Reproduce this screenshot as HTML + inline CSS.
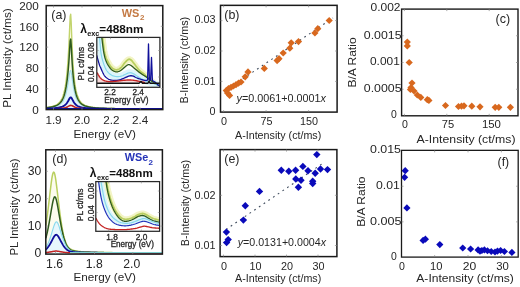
<!DOCTYPE html>
<html><head><meta charset="utf-8"><style>
html,body{margin:0;padding:0;background:#fff;}
svg{display:block;filter:blur(0.3px);}
text{font-family:"Liberation Sans", sans-serif;}
</style></head><body>
<svg xmlns="http://www.w3.org/2000/svg" width="520" height="287" viewBox="0 0 520 287">
<rect width="520" height="287" fill="#fff"/>
<polygon points="46.20,109.50 46.20,107.63 46.70,107.56 47.20,107.50 47.70,107.43 48.20,107.36 48.70,107.28 49.20,107.19 49.70,107.10 50.20,107.00 50.70,106.90 51.20,106.78 51.70,106.66 52.20,106.53 52.70,106.39 53.20,106.24 53.70,106.07 54.20,105.89 54.70,105.69 55.20,105.47 55.70,105.24 56.20,104.98 56.70,104.69 57.20,104.37 57.70,104.02 58.20,103.62 58.70,103.19 59.20,102.70 59.70,102.15 60.20,101.52 60.70,100.82 61.20,100.02 61.70,99.10 62.20,98.05 62.70,96.84 63.20,95.43 63.70,93.80 64.20,91.89 64.70,89.64 65.20,87.00 65.70,83.88 66.20,80.19 66.70,75.83 67.20,70.68 67.70,64.59 68.20,57.38 68.70,48.78 69.20,38.49 69.70,26.80 70.20,16.58 70.70,14.35 71.20,22.81 71.70,36.03 72.20,48.44 72.70,58.53 73.20,66.53 73.70,72.92 74.20,78.10 74.70,82.33 75.20,85.83 75.70,88.74 76.20,91.17 76.70,93.23 77.20,94.97 77.70,96.46 78.20,97.74 78.70,98.84 79.20,99.79 79.70,100.63 80.20,101.36 80.70,102.00 81.20,102.57 81.70,103.08 82.20,103.53 82.70,103.93 83.20,104.29 83.70,104.62 84.20,104.91 84.70,105.18 85.20,105.42 85.70,105.64 86.20,105.85 86.70,106.03 87.20,106.20 87.70,106.36 88.20,106.50 88.70,106.64 89.20,106.76 89.70,106.87 90.20,106.98 90.70,107.08 91.20,107.17 91.70,107.26 92.20,107.34 92.70,107.41 93.20,107.49 93.70,107.55 94.20,107.61 94.70,107.67 95.20,107.73 95.70,107.78 96.20,107.83 96.70,107.88 97.20,107.92 97.70,107.96 98.20,108.00 98.70,108.04 99.20,108.08 99.70,108.11 100.20,108.14 100.70,108.17 101.20,108.20 101.70,108.23 102.20,108.26 102.70,108.28 103.20,108.31 103.70,108.33 104.20,108.35 104.70,108.37 105.20,108.39 105.70,108.41 106.20,108.43 106.70,108.45 107.20,108.47 107.70,108.48 108.20,108.50 108.70,108.51 109.20,108.53 109.70,108.54 110.20,108.56 110.70,108.57 111.20,108.58 111.70,108.60 112.20,108.61 112.70,108.62 113.20,108.63 113.70,108.64 114.20,108.65 114.70,108.66 115.20,108.67 115.70,108.68 116.20,108.69 116.70,108.70 117.20,108.71 117.70,108.71 118.20,108.72 118.70,108.73 119.20,108.74 119.70,108.74 120.20,108.75 120.70,108.76 121.20,108.77 121.70,108.77 122.20,108.78 122.70,108.78 123.20,108.79 123.70,108.80 124.20,108.80 124.70,108.81 125.20,108.81 125.70,108.82 126.20,108.82 126.70,108.83 127.20,108.83 127.70,108.84 128.20,108.84 128.70,108.85 129.20,108.85 129.70,108.85 130.20,108.86 130.70,108.86 131.20,108.87 131.70,108.87 132.20,108.87 132.70,108.88 133.20,108.88 133.70,108.88 134.20,108.89 134.70,108.89 135.20,108.89 135.70,108.90 136.20,108.90 136.70,108.90 137.20,108.91 137.70,108.91 138.20,108.91 138.70,108.91 139.20,108.92 139.70,108.92 140.20,108.92 140.70,108.92 141.20,108.93 141.70,108.93 142.20,108.93 142.70,108.93 143.20,108.94 143.70,108.94 144.20,108.94 144.70,108.94 145.20,108.94 145.70,108.95 146.20,108.95 146.70,108.95 147.20,108.95 147.70,108.95 148.20,108.96 148.70,108.96 149.20,108.96 149.70,108.96 150.20,108.96 150.70,108.97 151.20,108.97 151.70,108.97 152.20,108.97 152.70,108.97 153.20,108.97 153.70,108.97 154.20,108.98 154.70,108.98 155.20,108.98 155.70,108.98 156.20,108.98 156.70,108.98 157.20,108.98 157.70,108.99 158.20,108.99 158.70,108.99 159.20,108.99 159.70,108.99 160.20,108.99 160.70,108.99 161.20,108.99 161.70,109.00 162.20,109.00 162.70,109.00 162.80,109.50" fill="#FBFBE3" stroke="none"/>
<polygon points="46.20,109.50 46.20,108.19 46.70,108.15 47.20,108.11 47.70,108.07 48.20,108.03 48.70,107.98 49.20,107.93 49.70,107.87 50.20,107.81 50.70,107.75 51.20,107.68 51.70,107.61 52.20,107.53 52.70,107.44 53.20,107.35 53.70,107.25 54.20,107.14 54.70,107.02 55.20,106.89 55.70,106.75 56.20,106.59 56.70,106.42 57.20,106.23 57.70,106.02 58.20,105.79 58.70,105.54 59.20,105.25 59.70,104.93 60.20,104.57 60.70,104.16 61.20,103.71 61.70,103.18 62.20,102.59 62.70,101.91 63.20,101.14 63.70,100.24 64.20,99.21 64.70,98.02 65.20,96.64 65.70,95.04 66.20,93.19 66.70,91.07 67.20,88.65 67.70,85.91 68.20,82.86 68.70,79.54 69.20,76.08 69.70,72.86 70.20,70.64 70.70,70.34 71.20,72.25 71.70,75.60 72.20,79.41 72.70,83.07 73.20,86.35 73.70,89.22 74.20,91.68 74.70,93.80 75.20,95.61 75.70,97.17 76.20,98.50 76.70,99.64 77.20,100.62 77.70,101.48 78.20,102.21 78.70,102.86 79.20,103.42 79.70,103.92 80.20,104.35 80.70,104.74 81.20,105.08 81.70,105.38 82.20,105.66 82.70,105.90 83.20,106.12 83.70,106.32 84.20,106.50 84.70,106.67 85.20,106.82 85.70,106.95 86.20,107.08 86.70,107.19 87.20,107.30 87.70,107.39 88.20,107.48 88.70,107.56 89.20,107.64 89.70,107.71 90.20,107.78 90.70,107.84 91.20,107.90 91.70,107.95 92.20,108.00 92.70,108.05 93.20,108.09 93.70,108.13 94.20,108.17 94.70,108.21 95.20,108.24 95.70,108.28 96.20,108.31 96.70,108.34 97.20,108.36 97.70,108.39 98.20,108.41 98.70,108.44 99.20,108.46 99.70,108.48 100.20,108.50 100.70,108.52 101.20,108.54 101.70,108.56 102.20,108.57 102.70,108.59 103.20,108.60 103.70,108.62 104.20,108.63 104.70,108.65 105.20,108.66 105.70,108.67 106.20,108.68 106.70,108.69 107.20,108.70 107.70,108.71 108.20,108.72 108.70,108.73 109.20,108.74 109.70,108.75 110.20,108.76 110.70,108.77 111.20,108.78 111.70,108.78 112.20,108.79 112.70,108.80 113.20,108.81 113.70,108.81 114.20,108.82 114.70,108.83 115.20,108.83 115.70,108.84 116.20,108.84 116.70,108.85 117.20,108.85 117.70,108.86 118.20,108.86 118.70,108.87 119.20,108.87 119.70,108.88 120.20,108.88 120.70,108.89 121.20,108.89 121.70,108.89 122.20,108.90 122.70,108.90 123.20,108.91 123.70,108.91 124.20,108.91 124.70,108.92 125.20,108.92 125.70,108.92 126.20,108.93 126.70,108.93 127.20,108.93 127.70,108.94 128.20,108.94 128.70,108.94 129.20,108.94 129.70,108.95 130.20,108.95 130.70,108.95 131.20,108.95 131.70,108.96 132.20,108.96 132.70,108.96 133.20,108.96 133.70,108.96 134.20,108.97 134.70,108.97 135.20,108.97 135.70,108.97 136.20,108.97 136.70,108.98 137.20,108.98 137.70,108.98 138.20,108.98 138.70,108.98 139.20,108.99 139.70,108.99 140.20,108.99 140.70,108.99 141.20,108.99 141.70,108.99 142.20,108.99 142.70,109.00 143.20,109.00 143.70,109.00 144.20,109.00 144.70,109.00 145.20,109.00 145.70,109.00 146.20,109.01 146.70,109.01 147.20,109.01 147.70,109.01 148.20,109.01 148.70,109.01 149.20,109.01 149.70,109.01 150.20,109.01 150.70,109.02 151.20,109.02 151.70,109.02 152.20,109.02 152.70,109.02 153.20,109.02 153.70,109.02 154.20,109.02 154.70,109.02 155.20,109.02 155.70,109.03 156.20,109.03 156.70,109.03 157.20,109.03 157.70,109.03 158.20,109.03 158.70,109.03 159.20,109.03 159.70,109.03 160.20,109.03 160.70,109.03 161.20,109.03 161.70,109.03 162.20,109.04 162.70,109.04 162.80,109.50" fill="#E4F7FB" stroke="none"/>
<polyline points="46.20,107.53 46.70,107.46 47.20,107.40 47.70,107.33 48.20,107.26 48.70,107.18 49.20,107.09 49.70,107.00 50.20,106.90 50.70,106.80 51.20,106.68 51.70,106.56 52.20,106.43 52.70,106.29 53.20,106.14 53.70,105.97 54.20,105.79 54.70,105.59 55.20,105.37 55.70,105.14 56.20,104.88 56.70,104.59 57.20,104.27 57.70,103.92 58.20,103.52 58.70,103.09 59.20,102.60 59.70,102.05 60.20,101.42 60.70,100.72 61.20,99.92 61.70,99.00 62.20,97.95 62.70,96.74 63.20,95.33 63.70,93.70 64.20,91.79 64.70,89.54 65.20,86.90 65.70,83.78 66.20,80.09 66.70,75.73 67.20,70.58 67.70,64.49 68.20,57.28 68.70,48.68 69.20,38.39 69.70,26.70 70.20,16.48 70.70,14.25 71.20,22.71 71.70,35.93 72.20,48.34 72.70,58.43 73.20,66.43 73.70,72.82 74.20,78.00 74.70,82.23 75.20,85.73 75.70,88.64 76.20,91.07 76.70,93.13 77.20,94.87 77.70,96.36 78.20,97.64 78.70,98.74 79.20,99.69 79.70,100.53 80.20,101.26 80.70,101.90 81.20,102.47 81.70,102.98 82.20,103.43 82.70,103.83 83.20,104.19 83.70,104.52 84.20,104.81 84.70,105.08 85.20,105.32 85.70,105.54 86.20,105.75 86.70,105.93 87.20,106.10 87.70,106.26 88.20,106.40 88.70,106.54 89.20,106.66 89.70,106.77 90.20,106.88 90.70,106.98 91.20,107.07 91.70,107.16 92.20,107.24 92.70,107.31 93.20,107.39 93.70,107.45 94.20,107.51 94.70,107.57 95.20,107.63 95.70,107.68 96.20,107.73 96.70,107.78 97.20,107.82 97.70,107.86 98.20,107.90 98.70,107.94 99.20,107.98 99.70,108.01 100.20,108.04 100.70,108.07 101.20,108.10 101.70,108.13 102.20,108.16 102.70,108.18 103.20,108.21 103.70,108.23 104.20,108.25 104.70,108.27 105.20,108.29 105.70,108.31 106.20,108.33 106.70,108.35 107.20,108.37 107.70,108.38 108.20,108.40 108.70,108.41 109.20,108.43 109.70,108.44 110.20,108.46 110.70,108.47 111.20,108.48 111.70,108.50 112.20,108.51 112.70,108.52 113.20,108.53 113.70,108.54 114.20,108.55 114.70,108.56 115.20,108.57 115.70,108.58 116.20,108.59 116.70,108.60 117.20,108.61 117.70,108.61 118.20,108.62 118.70,108.63 119.20,108.64 119.70,108.64 120.20,108.65 120.70,108.66 121.20,108.67 121.70,108.67 122.20,108.68 122.70,108.68 123.20,108.69 123.70,108.70 124.20,108.70 124.70,108.71 125.20,108.71 125.70,108.72 126.20,108.72 126.70,108.73 127.20,108.73 127.70,108.74 128.20,108.74 128.70,108.75 129.20,108.75 129.70,108.75 130.20,108.76 130.70,108.76 131.20,108.77 131.70,108.77 132.20,108.77 132.70,108.78 133.20,108.78 133.70,108.78 134.20,108.79 134.70,108.79 135.20,108.79 135.70,108.80 136.20,108.80 136.70,108.80 137.20,108.81 137.70,108.81 138.20,108.81 138.70,108.81 139.20,108.82 139.70,108.82 140.20,108.82 140.70,108.82 141.20,108.83 141.70,108.83 142.20,108.83 142.70,108.83 143.20,108.84 143.70,108.84 144.20,108.84 144.70,108.84 145.20,108.84 145.70,108.85 146.20,108.85 146.70,108.85 147.20,108.85 147.70,108.85 148.20,108.86 148.70,108.86 149.20,108.86 149.70,108.86 150.20,108.86 150.70,108.87 151.20,108.87 151.70,108.87 152.20,108.87 152.70,108.87 153.20,108.87 153.70,108.87 154.20,108.88 154.70,108.88 155.20,108.88 155.70,108.88 156.20,108.88 156.70,108.88 157.20,108.88 157.70,108.89 158.20,108.89 158.70,108.89 159.20,108.89 159.70,108.89 160.20,108.89 160.70,108.89 161.20,108.89 161.70,108.90 162.20,108.90 162.70,108.90" fill="none" stroke="#C2D46C" stroke-width="1.4" stroke-linejoin="round"/>
<polyline points="46.20,108.09 46.70,108.05 47.20,108.01 47.70,107.97 48.20,107.93 48.70,107.88 49.20,107.83 49.70,107.77 50.20,107.71 50.70,107.65 51.20,107.58 51.70,107.51 52.20,107.43 52.70,107.34 53.20,107.25 53.70,107.15 54.20,107.04 54.70,106.92 55.20,106.79 55.70,106.65 56.20,106.49 56.70,106.32 57.20,106.13 57.70,105.92 58.20,105.69 58.70,105.44 59.20,105.15 59.70,104.83 60.20,104.47 60.70,104.06 61.20,103.61 61.70,103.08 62.20,102.49 62.70,101.81 63.20,101.04 63.70,100.14 64.20,99.11 64.70,97.92 65.20,96.54 65.70,94.94 66.20,93.09 66.70,90.97 67.20,88.55 67.70,85.81 68.20,82.76 68.70,79.44 69.20,75.98 69.70,72.76 70.20,70.54 70.70,70.24 71.20,72.15 71.70,75.50 72.20,79.31 72.70,82.97 73.20,86.25 73.70,89.12 74.20,91.58 74.70,93.70 75.20,95.51 75.70,97.07 76.20,98.40 76.70,99.54 77.20,100.52 77.70,101.38 78.20,102.11 78.70,102.76 79.20,103.32 79.70,103.82 80.20,104.25 80.70,104.64 81.20,104.98 81.70,105.28 82.20,105.56 82.70,105.80 83.20,106.02 83.70,106.22 84.20,106.40 84.70,106.57 85.20,106.72 85.70,106.85 86.20,106.98 86.70,107.09 87.20,107.20 87.70,107.29 88.20,107.38 88.70,107.46 89.20,107.54 89.70,107.61 90.20,107.68 90.70,107.74 91.20,107.80 91.70,107.85 92.20,107.90 92.70,107.95 93.20,107.99 93.70,108.03 94.20,108.07 94.70,108.11 95.20,108.14 95.70,108.18 96.20,108.21 96.70,108.24 97.20,108.26 97.70,108.29 98.20,108.31 98.70,108.34 99.20,108.36 99.70,108.38 100.20,108.40 100.70,108.42 101.20,108.44 101.70,108.46 102.20,108.47 102.70,108.49 103.20,108.50 103.70,108.52 104.20,108.53 104.70,108.55 105.20,108.56 105.70,108.57 106.20,108.58 106.70,108.59 107.20,108.60 107.70,108.61 108.20,108.62 108.70,108.63 109.20,108.64 109.70,108.65 110.20,108.66 110.70,108.67 111.20,108.68 111.70,108.68 112.20,108.69 112.70,108.70 113.20,108.71 113.70,108.71 114.20,108.72 114.70,108.73 115.20,108.73 115.70,108.74 116.20,108.74 116.70,108.75 117.20,108.75 117.70,108.76 118.20,108.76 118.70,108.77 119.20,108.77 119.70,108.78 120.20,108.78 120.70,108.79 121.20,108.79 121.70,108.79 122.20,108.80 122.70,108.80 123.20,108.81 123.70,108.81 124.20,108.81 124.70,108.82 125.20,108.82 125.70,108.82 126.20,108.83 126.70,108.83 127.20,108.83 127.70,108.84 128.20,108.84 128.70,108.84 129.20,108.84 129.70,108.85 130.20,108.85 130.70,108.85 131.20,108.85 131.70,108.86 132.20,108.86 132.70,108.86 133.20,108.86 133.70,108.86 134.20,108.87 134.70,108.87 135.20,108.87 135.70,108.87 136.20,108.87 136.70,108.88 137.20,108.88 137.70,108.88 138.20,108.88 138.70,108.88 139.20,108.89 139.70,108.89 140.20,108.89 140.70,108.89 141.20,108.89 141.70,108.89 142.20,108.89 142.70,108.90 143.20,108.90 143.70,108.90 144.20,108.90 144.70,108.90 145.20,108.90 145.70,108.90 146.20,108.91 146.70,108.91 147.20,108.91 147.70,108.91 148.20,108.91 148.70,108.91 149.20,108.91 149.70,108.91 150.20,108.91 150.70,108.92 151.20,108.92 151.70,108.92 152.20,108.92 152.70,108.92 153.20,108.92 153.70,108.92 154.20,108.92 154.70,108.92 155.20,108.92 155.70,108.93 156.20,108.93 156.70,108.93 157.20,108.93 157.70,108.93 158.20,108.93 158.70,108.93 159.20,108.93 159.70,108.93 160.20,108.93 160.70,108.93 161.20,108.93 161.70,108.93 162.20,108.94 162.70,108.94" fill="none" stroke="#9ADBEA" stroke-width="1.0" stroke-linejoin="round"/>
<polyline points="46.20,107.77 46.70,107.72 47.20,107.67 47.70,107.61 48.20,107.55 48.70,107.48 49.20,107.41 49.70,107.33 50.20,107.25 50.70,107.17 51.20,107.07 51.70,106.97 52.20,106.86 52.70,106.75 53.20,106.62 53.70,106.48 54.20,106.33 54.70,106.17 55.20,105.99 55.70,105.80 56.20,105.58 56.70,105.35 57.20,105.09 57.70,104.80 58.20,104.48 58.70,104.12 59.20,103.73 59.70,103.28 60.20,102.78 60.70,102.22 61.20,101.57 61.70,100.84 62.20,100.01 62.70,99.05 63.20,97.95 63.70,96.68 64.20,95.20 64.70,93.49 65.20,91.49 65.70,89.16 66.20,86.43 66.70,83.25 67.20,79.55 67.70,75.21 68.20,70.12 68.70,64.04 69.20,56.72 69.70,48.30 70.20,40.84 70.70,39.13 71.20,45.17 71.70,54.65 72.20,63.53 72.70,70.75 73.20,76.49 73.70,81.11 74.20,84.89 74.70,88.01 75.20,90.63 75.70,92.82 76.20,94.68 76.70,96.26 77.20,97.61 77.70,98.77 78.20,99.78 78.70,100.65 79.20,101.41 79.70,102.07 80.20,102.66 80.70,103.18 81.20,103.64 81.70,104.04 82.20,104.41 82.70,104.74 83.20,105.03 83.70,105.30 84.20,105.54 84.70,105.76 85.20,105.96 85.70,106.14 86.20,106.30 86.70,106.45 87.20,106.59 87.70,106.72 88.20,106.84 88.70,106.95 89.20,107.05 89.70,107.15 90.20,107.24 90.70,107.32 91.20,107.40 91.70,107.47 92.20,107.53 92.70,107.60 93.20,107.65 93.70,107.71 94.20,107.76 94.70,107.81 95.20,107.86 95.70,107.90 96.20,107.94 96.70,107.98 97.20,108.02 97.70,108.05 98.20,108.08 98.70,108.12 99.20,108.14 99.70,108.17 100.20,108.20 100.70,108.23 101.20,108.25 101.70,108.27 102.20,108.30 102.70,108.32 103.20,108.34 103.70,108.36 104.20,108.37 104.70,108.39 105.20,108.41 105.70,108.43 106.20,108.44 106.70,108.46 107.20,108.47 107.70,108.49 108.20,108.50 108.70,108.51 109.20,108.52 109.70,108.54 110.20,108.55 110.70,108.56 111.20,108.57 111.70,108.58 112.20,108.59 112.70,108.60 113.20,108.61 113.70,108.62 114.20,108.62 114.70,108.63 115.20,108.64 115.70,108.65 116.20,108.66 116.70,108.66 117.20,108.67 117.70,108.68 118.20,108.68 118.70,108.69 119.20,108.70 119.70,108.70 120.20,108.71 120.70,108.71 121.20,108.72 121.70,108.73 122.20,108.73 122.70,108.74 123.20,108.74 123.70,108.75 124.20,108.75 124.70,108.75 125.20,108.76 125.70,108.76 126.20,108.77 126.70,108.77 127.20,108.78 127.70,108.78 128.20,108.78 128.70,108.79 129.20,108.79 129.70,108.79 130.20,108.80 130.70,108.80 131.20,108.80 131.70,108.81 132.20,108.81 132.70,108.81 133.20,108.82 133.70,108.82 134.20,108.82 134.70,108.82 135.20,108.83 135.70,108.83 136.20,108.83 136.70,108.84 137.20,108.84 137.70,108.84 138.20,108.84 138.70,108.84 139.20,108.85 139.70,108.85 140.20,108.85 140.70,108.85 141.20,108.86 141.70,108.86 142.20,108.86 142.70,108.86 143.20,108.86 143.70,108.86 144.20,108.87 144.70,108.87 145.20,108.87 145.70,108.87 146.20,108.87 146.70,108.88 147.20,108.88 147.70,108.88 148.20,108.88 148.70,108.88 149.20,108.88 149.70,108.88 150.20,108.89 150.70,108.89 151.20,108.89 151.70,108.89 152.20,108.89 152.70,108.89 153.20,108.89 153.70,108.90 154.20,108.90 154.70,108.90 155.20,108.90 155.70,108.90 156.20,108.90 156.70,108.90 157.20,108.90 157.70,108.90 158.20,108.91 158.70,108.91 159.20,108.91 159.70,108.91 160.20,108.91 160.70,108.91 161.20,108.91 161.70,108.91 162.20,108.91 162.70,108.91" fill="none" stroke="#2F5B1E" stroke-width="1.5" stroke-linejoin="round"/>
<polyline points="46.20,108.62 46.70,108.60 47.20,108.59 47.70,108.57 48.20,108.55 48.70,108.53 49.20,108.51 49.70,108.49 50.20,108.46 50.70,108.44 51.20,108.41 51.70,108.38 52.20,108.35 52.70,108.32 53.20,108.28 53.70,108.24 54.20,108.20 54.70,108.16 55.20,108.11 55.70,108.05 56.20,108.00 56.70,107.93 57.20,107.86 57.70,107.79 58.20,107.70 58.70,107.61 59.20,107.51 59.70,107.40 60.20,107.27 60.70,107.14 61.20,106.98 61.70,106.81 62.20,106.62 62.70,106.41 63.20,106.16 63.70,105.89 64.20,105.58 64.70,105.23 65.20,104.83 65.70,104.38 66.20,103.86 66.70,103.26 67.20,102.58 67.70,101.81 68.20,100.94 68.70,100.01 69.20,99.06 69.70,98.21 70.20,97.61 70.70,97.40 71.20,97.65 71.70,98.29 72.20,99.17 72.70,100.14 73.20,101.09 73.70,101.96 74.20,102.74 74.70,103.42 75.20,104.01 75.70,104.53 76.20,104.98 76.70,105.37 77.20,105.71 77.70,106.01 78.20,106.27 78.70,106.50 79.20,106.71 79.70,106.89 80.20,107.06 80.70,107.20 81.20,107.34 81.70,107.46 82.20,107.56 82.70,107.66 83.20,107.75 83.70,107.83 84.20,107.90 84.70,107.97 85.20,108.03 85.70,108.08 86.20,108.13 86.70,108.18 87.20,108.22 87.70,108.26 88.20,108.30 88.70,108.34 89.20,108.37 89.70,108.40 90.20,108.43 90.70,108.45 91.20,108.48 91.70,108.50 92.20,108.52 92.70,108.54 93.20,108.56 93.70,108.58 94.20,108.60 94.70,108.61 95.20,108.63 95.70,108.64 96.20,108.65 96.70,108.67 97.20,108.68 97.70,108.69 98.20,108.70 98.70,108.71 99.20,108.72 99.70,108.73 100.20,108.74 100.70,108.75 101.20,108.75 101.70,108.76 102.20,108.77 102.70,108.78 103.20,108.78 103.70,108.79 104.20,108.79 104.70,108.80 105.20,108.81 105.70,108.81 106.20,108.82 106.70,108.82 107.20,108.83 107.70,108.83 108.20,108.83 108.70,108.84 109.20,108.84 109.70,108.85 110.20,108.85 110.70,108.85 111.20,108.86 111.70,108.86 112.20,108.86 112.70,108.87 113.20,108.87 113.70,108.87 114.20,108.88 114.70,108.88 115.20,108.88 115.70,108.88 116.20,108.89 116.70,108.89 117.20,108.89 117.70,108.89 118.20,108.90 118.70,108.90 119.20,108.90 119.70,108.90 120.20,108.90 120.70,108.91 121.20,108.91 121.70,108.91 122.20,108.91 122.70,108.91 123.20,108.91 123.70,108.92 124.20,108.92 124.70,108.92 125.20,108.92 125.70,108.92 126.20,108.92 126.70,108.92 127.20,108.93 127.70,108.93 128.20,108.93 128.70,108.93 129.20,108.93 129.70,108.93 130.20,108.93 130.70,108.93 131.20,108.94 131.70,108.94 132.20,108.94 132.70,108.94 133.20,108.94 133.70,108.94 134.20,108.94 134.70,108.94 135.20,108.94 135.70,108.94 136.20,108.94 136.70,108.95 137.20,108.95 137.70,108.95 138.20,108.95 138.70,108.95 139.20,108.95 139.70,108.95 140.20,108.95 140.70,108.95 141.20,108.95 141.70,108.95 142.20,108.95 142.70,108.95 143.20,108.95 143.70,108.96 144.20,108.96 144.70,108.96 145.20,108.96 145.70,108.96 146.20,108.96 146.70,108.96 147.20,108.96 147.70,108.96 148.20,108.96 148.70,108.96 149.20,108.96 149.70,108.96 150.20,108.96 150.70,108.96 151.20,108.96 151.70,108.96 152.20,108.96 152.70,108.96 153.20,108.97 153.70,108.97 154.20,108.97 154.70,108.97 155.20,108.97 155.70,108.97 156.20,108.97 156.70,108.97 157.20,108.97 157.70,108.97 158.20,108.97 158.70,108.97 159.20,108.97 159.70,108.97 160.20,108.97 160.70,108.97 161.20,108.97 161.70,108.97 162.20,108.97 162.70,108.97" fill="none" stroke="#10109A" stroke-width="1.9" stroke-linejoin="round"/>
<polyline points="46.20,108.90 46.70,108.89 47.20,108.89 47.70,108.88 48.20,108.88 48.70,108.87 49.20,108.87 49.70,108.86 50.20,108.86 50.70,108.85 51.20,108.84 51.70,108.83 52.20,108.83 52.70,108.82 53.20,108.81 53.70,108.80 54.20,108.78 54.70,108.77 55.20,108.76 55.70,108.74 56.20,108.72 56.70,108.71 57.20,108.69 57.70,108.66 58.20,108.64 58.70,108.61 59.20,108.58 59.70,108.55 60.20,108.51 60.70,108.47 61.20,108.42 61.70,108.37 62.20,108.31 62.70,108.24 63.20,108.16 63.70,108.07 64.20,107.96 64.70,107.84 65.20,107.70 65.70,107.55 66.20,107.36 66.70,107.16 67.20,106.92 67.70,106.67 68.20,106.40 68.70,106.12 69.20,105.86 69.70,105.63 70.20,105.47 70.70,105.40 71.20,105.43 71.70,105.56 72.20,105.76 72.70,106.01 73.20,106.29 73.70,106.56 74.20,106.83 74.70,107.07 75.20,107.28 75.70,107.48 76.20,107.64 76.70,107.79 77.20,107.92 77.70,108.03 78.20,108.12 78.70,108.21 79.20,108.28 79.70,108.34 80.20,108.40 80.70,108.45 81.20,108.50 81.70,108.53 82.20,108.57 82.70,108.60 83.20,108.63 83.70,108.65 84.20,108.68 84.70,108.70 85.20,108.72 85.70,108.74 86.20,108.75 86.70,108.77 87.20,108.78 87.70,108.79 88.20,108.80 88.70,108.81 89.20,108.82 89.70,108.83 90.20,108.84 90.70,108.85 91.20,108.85 91.70,108.86 92.20,108.87 92.70,108.87 93.20,108.88 93.70,108.88 94.20,108.89 94.70,108.89 95.20,108.90 95.70,108.90 96.20,108.90 96.70,108.91 97.20,108.91 97.70,108.91 98.20,108.92 98.70,108.92 99.20,108.92 99.70,108.93 100.20,108.93 100.70,108.93 101.20,108.93 101.70,108.93 102.20,108.94 102.70,108.94 103.20,108.94 103.70,108.94 104.20,108.94 104.70,108.95 105.20,108.95 105.70,108.95 106.20,108.95 106.70,108.95 107.20,108.95 107.70,108.95 108.20,108.96 108.70,108.96 109.20,108.96 109.70,108.96 110.20,108.96 110.70,108.96 111.20,108.96 111.70,108.96 112.20,108.96 112.70,108.96 113.20,108.97 113.70,108.97 114.20,108.97 114.70,108.97 115.20,108.97 115.70,108.97 116.20,108.97 116.70,108.97 117.20,108.97 117.70,108.97 118.20,108.97 118.70,108.97 119.20,108.97 119.70,108.97 120.20,108.97 120.70,108.97 121.20,108.98 121.70,108.98 122.20,108.98 122.70,108.98 123.20,108.98 123.70,108.98 124.20,108.98 124.70,108.98 125.20,108.98 125.70,108.98 126.20,108.98 126.70,108.98 127.20,108.98 127.70,108.98 128.20,108.98 128.70,108.98 129.20,108.98 129.70,108.98 130.20,108.98 130.70,108.98 131.20,108.98 131.70,108.98 132.20,108.98 132.70,108.98 133.20,108.98 133.70,108.98 134.20,108.98 134.70,108.98 135.20,108.98 135.70,108.98 136.20,108.99 136.70,108.99 137.20,108.99 137.70,108.99 138.20,108.99 138.70,108.99 139.20,108.99 139.70,108.99 140.20,108.99 140.70,108.99 141.20,108.99 141.70,108.99 142.20,108.99 142.70,108.99 143.20,108.99 143.70,108.99 144.20,108.99 144.70,108.99 145.20,108.99 145.70,108.99 146.20,108.99 146.70,108.99 147.20,108.99 147.70,108.99 148.20,108.99 148.70,108.99 149.20,108.99 149.70,108.99 150.20,108.99 150.70,108.99 151.20,108.99 151.70,108.99 152.20,108.99 152.70,108.99 153.20,108.99 153.70,108.99 154.20,108.99 154.70,108.99 155.20,108.99 155.70,108.99 156.20,108.99 156.70,108.99 157.20,108.99 157.70,108.99 158.20,108.99 158.70,108.99 159.20,108.99 159.70,108.99 160.20,108.99 160.70,108.99 161.20,108.99 161.70,108.99 162.20,108.99 162.70,108.99" fill="none" stroke="#C42222" stroke-width="1.6" stroke-linejoin="round"/>
<line x1="46.20" y1="108.70" x2="162.80" y2="108.70" stroke="#10109A" stroke-width="1.4"/>
<rect x="96.8" y="37.4" width="63.10000000000001" height="49.9" fill="#fff"/>
<clipPath id="cia"><rect x="96.8" y="37.4" width="63.10000000000001" height="49.9"/></clipPath>
<g clip-path="url(#cia)">
<polyline points="102.50,37.40 102.61,38.23 102.76,39.39 102.94,40.76 103.13,42.23 103.32,43.68 103.50,45.00 103.66,46.22 103.81,47.43 103.97,48.63 104.13,49.80 104.30,50.93 104.50,52.00 104.72,53.02 104.94,53.98 105.19,54.91 105.44,55.80 105.72,56.66 106.00,57.50 106.30,58.31 106.61,59.09 106.94,59.84 107.28,60.57 107.63,61.29 108.00,62.00 108.39,62.71 108.80,63.43 109.22,64.12 109.65,64.80 110.08,65.43 110.50,66.00 110.91,66.52 111.31,66.99 111.72,67.42 112.13,67.81 112.55,68.17 113.00,68.50 113.47,68.81 113.96,69.10 114.47,69.36 114.98,69.57 115.49,69.72 116.00,69.80 116.50,69.81 117.00,69.75 117.50,69.64 118.00,69.47 118.50,69.26 119.00,69.00 119.50,68.70 120.00,68.35 120.50,67.95 121.00,67.51 121.50,67.02 122.00,66.50 122.49,65.91 122.98,65.24 123.47,64.54 123.96,63.82 124.47,63.13 125.00,62.50 125.57,61.89 126.17,61.26 126.78,60.66 127.39,60.13 127.97,59.69 128.50,59.40 128.97,59.25 129.39,59.22 129.78,59.29 130.17,59.45 130.57,59.69 131.00,60.00 131.47,60.41 131.96,60.93 132.47,61.54 132.98,62.19 133.49,62.85 134.00,63.50 134.50,64.14 135.00,64.81 135.50,65.50 136.00,66.19 136.50,66.86 137.00,67.50 137.49,68.12 137.96,68.72 138.44,69.31 138.93,69.89 139.44,70.45 140.00,71.00 140.62,71.53 141.30,72.04 142.00,72.53 142.70,73.02 143.38,73.51 144.00,74.00 144.56,74.51 145.07,75.02 145.56,75.53 146.04,76.04 146.51,76.53 147.00,77.00 147.50,77.45 148.00,77.87 148.50,78.28 149.00,78.69 149.50,79.09 150.00,79.50 150.50,79.92 151.00,80.35 151.50,80.78 152.00,81.20 152.50,81.61 153.00,82.00 153.49,82.37 153.96,82.72 154.44,83.06 154.93,83.39 155.44,83.70 156.00,84.00 156.66,84.30 157.41,84.59 158.19,84.88 158.93,85.13 159.55,85.34 160.00,85.50" fill="none" stroke="#F3F4C6" stroke-width="6" stroke-linejoin="round"/>
<polyline points="99.60,37.40 99.66,38.22 99.75,39.36 99.85,40.70 99.96,42.16 100.08,43.62 100.20,45.00 100.31,46.32 100.43,47.67 100.54,49.04 100.67,50.39 100.82,51.72 101.00,53.00 101.20,54.24 101.43,55.44 101.67,56.62 101.94,57.78 102.21,58.90 102.50,60.00 102.80,61.07 103.11,62.11 103.44,63.12 103.78,64.11 104.13,65.07 104.50,66.00 104.87,66.91 105.24,67.79 105.62,68.64 106.04,69.46 106.49,70.25 107.00,71.00 107.57,71.73 108.19,72.43 108.84,73.11 109.54,73.73 110.26,74.30 111.00,74.80 111.78,75.23 112.59,75.60 113.44,75.91 114.30,76.16 115.16,76.36 116.00,76.50 116.84,76.58 117.70,76.60 118.56,76.56 119.41,76.48 120.22,76.35 121.00,76.20 121.73,76.00 122.43,75.73 123.09,75.43 123.74,75.10 124.37,74.79 125.00,74.50 125.62,74.22 126.24,73.94 126.84,73.66 127.43,73.40 127.98,73.17 128.50,73.00 128.97,72.88 129.39,72.79 129.78,72.73 130.17,72.71 130.57,72.74 131.00,72.80 131.47,72.91 131.96,73.07 132.47,73.26 132.98,73.49 133.49,73.74 134.00,74.00 134.49,74.28 134.96,74.59 135.44,74.92 135.93,75.27 136.44,75.63 137.00,76.00 137.60,76.39 138.22,76.80 138.88,77.23 139.56,77.66 140.26,78.09 141.00,78.50 141.79,78.90 142.63,79.31 143.50,79.71 144.37,80.10 145.21,80.47 146.00,80.80 146.71,81.09 147.37,81.35 148.00,81.59 148.63,81.81 149.29,82.05 150.00,82.30 150.78,82.57 151.59,82.86 152.44,83.15 153.30,83.44 154.16,83.73 155.00,84.00 155.89,84.28 156.85,84.57 157.81,84.86 158.70,85.12 159.46,85.34 160.00,85.50" fill="none" stroke="#DDF5FA" stroke-width="7" stroke-linejoin="round"/>
<polygon points="97.00,72.50 97.22,72.89 97.52,73.44 97.88,74.09 98.26,74.78 98.64,75.43 99.00,76.00 99.32,76.48 99.63,76.93 99.94,77.34 100.26,77.74 100.61,78.12 101.00,78.50 101.43,78.87 101.89,79.24 102.38,79.59 102.89,79.93 103.43,80.23 104.00,80.50 104.61,80.74 105.26,80.94 105.94,81.12 106.63,81.28 107.32,81.40 108.00,81.50 108.64,81.56 109.26,81.59 109.88,81.59 110.52,81.57 111.22,81.54 112.00,81.50 112.88,81.45 113.85,81.38 114.88,81.29 115.93,81.20 116.98,81.10 118.00,81.00 119.00,80.89 120.00,80.77 121.00,80.64 122.00,80.51 123.00,80.40 124.00,80.30 125.01,80.22 126.04,80.14 127.06,80.07 128.07,80.03 129.06,80.00 130.00,80.00 130.89,80.03 131.74,80.09 132.56,80.17 133.37,80.27 134.18,80.38 135.00,80.50 135.83,80.64 136.67,80.80 137.50,80.97 138.33,81.15 139.17,81.33 140.00,81.50 140.89,81.68 141.85,81.87 142.81,82.06 143.70,82.24 144.46,82.39 145.00,82.50 145.00,83.00 96.80,83.00" fill="#F6DADA" stroke="none"/>
<polyline points="102.50,37.40 102.61,38.23 102.76,39.39 102.94,40.76 103.13,42.23 103.32,43.68 103.50,45.00 103.66,46.22 103.81,47.43 103.97,48.63 104.13,49.80 104.30,50.93 104.50,52.00 104.72,53.02 104.94,53.98 105.19,54.91 105.44,55.80 105.72,56.66 106.00,57.50 106.30,58.31 106.61,59.09 106.94,59.84 107.28,60.57 107.63,61.29 108.00,62.00 108.39,62.71 108.80,63.43 109.22,64.12 109.65,64.80 110.08,65.43 110.50,66.00 110.91,66.52 111.31,66.99 111.72,67.42 112.13,67.81 112.55,68.17 113.00,68.50 113.47,68.81 113.96,69.10 114.47,69.36 114.98,69.57 115.49,69.72 116.00,69.80 116.50,69.81 117.00,69.75 117.50,69.64 118.00,69.47 118.50,69.26 119.00,69.00 119.50,68.70 120.00,68.35 120.50,67.95 121.00,67.51 121.50,67.02 122.00,66.50 122.49,65.91 122.98,65.24 123.47,64.54 123.96,63.82 124.47,63.13 125.00,62.50 125.57,61.89 126.17,61.26 126.78,60.66 127.39,60.13 127.97,59.69 128.50,59.40 128.97,59.25 129.39,59.22 129.78,59.29 130.17,59.45 130.57,59.69 131.00,60.00 131.47,60.41 131.96,60.93 132.47,61.54 132.98,62.19 133.49,62.85 134.00,63.50 134.50,64.14 135.00,64.81 135.50,65.50 136.00,66.19 136.50,66.86 137.00,67.50 137.49,68.12 137.96,68.72 138.44,69.31 138.93,69.89 139.44,70.45 140.00,71.00 140.62,71.53 141.30,72.04 142.00,72.53 142.70,73.02 143.38,73.51 144.00,74.00 144.56,74.51 145.07,75.02 145.56,75.53 146.04,76.04 146.51,76.53 147.00,77.00 147.50,77.45 148.00,77.87 148.50,78.28 149.00,78.69 149.50,79.09 150.00,79.50 150.50,79.92 151.00,80.35 151.50,80.78 152.00,81.20 152.50,81.61 153.00,82.00 153.49,82.37 153.96,82.72 154.44,83.06 154.93,83.39 155.44,83.70 156.00,84.00 156.66,84.30 157.41,84.59 158.19,84.88 158.93,85.13 159.55,85.34 160.00,85.50" fill="none" stroke="#B9CF5F" stroke-width="1.8" stroke-linejoin="round"/>
<polyline points="101.80,37.40 101.90,38.23 102.03,39.39 102.19,40.76 102.36,42.23 102.53,43.68 102.70,45.00 102.86,46.21 103.01,47.41 103.18,48.60 103.34,49.76 103.51,50.90 103.70,52.00 103.89,53.08 104.10,54.13 104.31,55.16 104.53,56.15 104.76,57.10 105.00,58.00 105.25,58.84 105.51,59.63 105.79,60.38 106.07,61.09 106.38,61.80 106.70,62.50 107.04,63.20 107.40,63.89 107.77,64.56 108.16,65.22 108.57,65.87 109.00,66.50 109.45,67.13 109.91,67.77 110.40,68.39 110.91,68.98 111.44,69.52 112.00,70.00 112.61,70.42 113.26,70.81 113.94,71.15 114.63,71.43 115.29,71.65 115.90,71.80 116.46,71.86 117.00,71.85 117.51,71.78 118.00,71.65 118.50,71.49 119.00,71.30 119.50,71.09 119.99,70.84 120.47,70.56 120.97,70.24 121.47,69.88 122.00,69.50 122.56,69.06 123.15,68.55 123.75,68.01 124.35,67.46 124.94,66.95 125.50,66.50 126.03,66.09 126.56,65.68 127.06,65.31 127.56,64.99 128.03,64.74 128.50,64.60 128.94,64.57 129.35,64.63 129.75,64.77 130.15,64.98 130.56,65.22 131.00,65.50 131.46,65.82 131.94,66.19 132.42,66.61 132.93,67.06 133.45,67.53 134.00,68.00 134.58,68.49 135.20,69.01 135.83,69.56 136.47,70.10 137.10,70.62 137.70,71.10 138.28,71.55 138.84,71.97 139.39,72.37 139.94,72.76 140.47,73.13 141.00,73.50 141.52,73.86 142.02,74.20 142.52,74.53 143.01,74.85 143.50,75.17 144.00,75.50 144.50,75.83 145.00,76.15 145.50,76.47 146.00,76.80 146.50,77.14 147.00,77.50 147.50,77.89 148.00,78.31 148.50,78.75 149.00,79.19 149.50,79.61 150.00,80.00 150.50,80.36 151.00,80.70 151.50,81.03 152.00,81.35 152.50,81.67 153.00,82.00 153.49,82.34 153.96,82.69 154.44,83.03 154.93,83.37 155.44,83.70 156.00,84.00 156.66,84.30 157.41,84.59 158.19,84.88 158.93,85.13 159.55,85.34 160.00,85.50" fill="none" stroke="#2F5B1E" stroke-width="1.3" stroke-linejoin="round"/>
<polyline points="99.60,37.40 99.66,38.22 99.75,39.36 99.85,40.70 99.96,42.16 100.08,43.62 100.20,45.00 100.31,46.32 100.43,47.67 100.54,49.04 100.67,50.39 100.82,51.72 101.00,53.00 101.20,54.24 101.43,55.44 101.67,56.62 101.94,57.78 102.21,58.90 102.50,60.00 102.80,61.07 103.11,62.11 103.44,63.12 103.78,64.11 104.13,65.07 104.50,66.00 104.87,66.91 105.24,67.79 105.62,68.64 106.04,69.46 106.49,70.25 107.00,71.00 107.57,71.73 108.19,72.43 108.84,73.11 109.54,73.73 110.26,74.30 111.00,74.80 111.78,75.23 112.59,75.60 113.44,75.91 114.30,76.16 115.16,76.36 116.00,76.50 116.84,76.58 117.70,76.60 118.56,76.56 119.41,76.48 120.22,76.35 121.00,76.20 121.73,76.00 122.43,75.73 123.09,75.43 123.74,75.10 124.37,74.79 125.00,74.50 125.62,74.22 126.24,73.94 126.84,73.66 127.43,73.40 127.98,73.17 128.50,73.00 128.97,72.88 129.39,72.79 129.78,72.73 130.17,72.71 130.57,72.74 131.00,72.80 131.47,72.91 131.96,73.07 132.47,73.26 132.98,73.49 133.49,73.74 134.00,74.00 134.49,74.28 134.96,74.59 135.44,74.92 135.93,75.27 136.44,75.63 137.00,76.00 137.60,76.39 138.22,76.80 138.88,77.23 139.56,77.66 140.26,78.09 141.00,78.50 141.79,78.90 142.63,79.31 143.50,79.71 144.37,80.10 145.21,80.47 146.00,80.80 146.71,81.09 147.37,81.35 148.00,81.59 148.63,81.81 149.29,82.05 150.00,82.30 150.78,82.57 151.59,82.86 152.44,83.15 153.30,83.44 154.16,83.73 155.00,84.00 155.89,84.28 156.85,84.57 157.81,84.86 158.70,85.12 159.46,85.34 160.00,85.50" fill="none" stroke="#86D8EC" stroke-width="1.2" stroke-linejoin="round"/>
<polyline points="96.80,55.50 96.93,55.98 97.10,56.65 97.31,57.44 97.53,58.30 97.77,59.17 98.00,60.00 98.23,60.82 98.48,61.69 98.73,62.56 98.99,63.43 99.25,64.25 99.50,65.00 99.74,65.66 99.98,66.24 100.22,66.78 100.46,67.31 100.72,67.88 101.00,68.50 101.30,69.21 101.63,69.97 101.97,70.76 102.31,71.55 102.66,72.31 103.00,73.00 103.32,73.63 103.63,74.22 103.94,74.78 104.26,75.30 104.61,75.81 105.00,76.30 105.44,76.78 105.93,77.24 106.44,77.68 106.96,78.09 107.49,78.47 108.00,78.80 108.49,79.08 108.96,79.33 109.44,79.53 109.93,79.71 110.44,79.86 111.00,80.00 111.61,80.12 112.26,80.22 112.94,80.30 113.63,80.36 114.32,80.39 115.00,80.40 115.67,80.39 116.33,80.36 117.00,80.31 117.67,80.24 118.33,80.13 119.00,80.00 119.67,79.83 120.33,79.62 121.00,79.39 121.67,79.13 122.33,78.87 123.00,78.60 123.68,78.31 124.37,78.00 125.06,77.67 125.74,77.36 126.39,77.06 127.00,76.80 127.56,76.57 128.07,76.36 128.56,76.17 129.04,76.01 129.51,75.89 130.00,75.80 130.50,75.75 131.00,75.73 131.50,75.74 132.00,75.79 132.50,75.88 133.00,76.00 133.49,76.17 133.96,76.40 134.44,76.67 134.93,76.95 135.44,77.23 136.00,77.50 136.62,77.76 137.30,78.02 138.00,78.28 138.70,78.54 139.38,78.78 140.00,79.00 140.56,79.20 141.07,79.39 141.56,79.56 142.04,79.72 142.51,79.87 143.00,80.00 143.52,80.12 144.05,80.24 144.59,80.34 145.10,80.43 145.58,80.48 146.00,80.50 146.37,80.47 146.70,80.39 146.99,80.28 147.24,80.17 147.44,80.07 147.60,80.00 147.60,80.00 148.50,44.00 149.40,80.00 150.60,80.00 151.50,57.50 152.40,80.50 155.00,82.00 158.00,85.00 160.30,86.50" fill="none" stroke="#10109A" stroke-width="1.3" stroke-linejoin="round"/>
<polyline points="97.00,72.50 97.22,72.89 97.52,73.44 97.88,74.09 98.26,74.78 98.64,75.43 99.00,76.00 99.32,76.48 99.63,76.93 99.94,77.34 100.26,77.74 100.61,78.12 101.00,78.50 101.43,78.87 101.89,79.24 102.38,79.59 102.89,79.93 103.43,80.23 104.00,80.50 104.61,80.74 105.26,80.94 105.94,81.12 106.63,81.28 107.32,81.40 108.00,81.50 108.64,81.56 109.26,81.59 109.88,81.59 110.52,81.57 111.22,81.54 112.00,81.50 112.88,81.45 113.85,81.38 114.88,81.29 115.93,81.20 116.98,81.10 118.00,81.00 119.00,80.89 120.00,80.77 121.00,80.64 122.00,80.51 123.00,80.40 124.00,80.30 125.01,80.22 126.04,80.14 127.06,80.07 128.07,80.03 129.06,80.00 130.00,80.00 130.89,80.03 131.74,80.09 132.56,80.17 133.37,80.27 134.18,80.38 135.00,80.50 135.83,80.64 136.67,80.80 137.50,80.97 138.33,81.15 139.17,81.33 140.00,81.50 140.89,81.68 141.85,81.87 142.81,82.06 143.70,82.24 144.46,82.39 145.00,82.50" fill="none" stroke="#C42222" stroke-width="1.4" stroke-linejoin="round"/>
<polyline points="97.00,83.30 139.00,83.30 141.00,81.50 142.50,83.30 148.00,83.30 149.00,81.00 150.00,83.30 160.30,83.30" fill="none" stroke="#111" stroke-width="1.4" stroke-linejoin="round"/>
</g>
<rect x="96.80" y="37.40" width="63.10" height="49.90" fill="none" stroke="#282828" stroke-width="1.25"/>
<line x1="110.50" y1="37.40" x2="110.50" y2="39.20" stroke="#888" stroke-width="0.6"/>
<line x1="110.50" y1="87.30" x2="110.50" y2="85.50" stroke="#888" stroke-width="0.6"/>
<line x1="138.50" y1="37.40" x2="138.50" y2="39.20" stroke="#888" stroke-width="0.6"/>
<line x1="138.50" y1="87.30" x2="138.50" y2="85.50" stroke="#888" stroke-width="0.6"/>
<line x1="96.80" y1="50.50" x2="98.60" y2="50.50" stroke="#888" stroke-width="0.6"/>
<line x1="159.90" y1="50.50" x2="158.10" y2="50.50" stroke="#888" stroke-width="0.6"/>
<line x1="96.80" y1="77.00" x2="98.60" y2="77.00" stroke="#888" stroke-width="0.6"/>
<line x1="159.90" y1="77.00" x2="158.10" y2="77.00" stroke="#888" stroke-width="0.6"/>
<text x="110.00" y="95.00" font-size="8.3" text-anchor="middle" font-weight="normal" fill="#262626" stroke="#262626" stroke-width="0.3">2.2</text>
<text x="138.20" y="95.00" font-size="8.3" text-anchor="middle" font-weight="normal" fill="#262626" stroke="#262626" stroke-width="0.3">2.4</text>
<text x="104.20" y="102.50" font-size="8.3" text-anchor="start" font-weight="normal" fill="#262626" textLength="44.4" lengthAdjust="spacingAndGlyphs" stroke="#262626" stroke-width="0.3">Energy (eV)</text>
<text transform="translate(94.00,50.50) rotate(-90)" x="0" y="0" font-size="8.3" text-anchor="middle" font-weight="normal" fill="#262626" stroke="#262626" stroke-width="0.3">0.08</text>
<text transform="translate(94.00,74.00) rotate(-90)" x="0" y="0" font-size="8.3" text-anchor="middle" font-weight="normal" fill="#262626" stroke="#262626" stroke-width="0.3">0.04</text>
<text transform="translate(84.30,80.40) rotate(-90)" x="0" y="0" font-size="8.8" text-anchor="start" font-weight="normal" fill="#262626" textLength="33.4" lengthAdjust="spacingAndGlyphs" stroke="#262626" stroke-width="0.3">PL ct/ms</text>
<rect x="46.20" y="5.60" width="116.60" height="104.00" fill="none" stroke="#1a1a1a" stroke-width="1.5"/>
<line x1="46.20" y1="88.70" x2="48.20" y2="88.70" stroke="#888" stroke-width="0.7"/>
<line x1="162.80" y1="88.70" x2="160.80" y2="88.70" stroke="#888" stroke-width="0.7"/>
<line x1="46.20" y1="67.90" x2="48.20" y2="67.90" stroke="#888" stroke-width="0.7"/>
<line x1="162.80" y1="67.90" x2="160.80" y2="67.90" stroke="#888" stroke-width="0.7"/>
<line x1="46.20" y1="47.10" x2="48.20" y2="47.10" stroke="#888" stroke-width="0.7"/>
<line x1="162.80" y1="47.10" x2="160.80" y2="47.10" stroke="#888" stroke-width="0.7"/>
<line x1="46.20" y1="26.30" x2="48.20" y2="26.30" stroke="#888" stroke-width="0.7"/>
<line x1="162.80" y1="26.30" x2="160.80" y2="26.30" stroke="#888" stroke-width="0.7"/>
<line x1="53.50" y1="5.60" x2="53.50" y2="7.60" stroke="#888" stroke-width="0.7"/>
<line x1="53.50" y1="109.60" x2="53.50" y2="107.60" stroke="#888" stroke-width="0.7"/>
<line x1="82.00" y1="5.60" x2="82.00" y2="7.60" stroke="#888" stroke-width="0.7"/>
<line x1="82.00" y1="109.60" x2="82.00" y2="107.60" stroke="#888" stroke-width="0.7"/>
<line x1="111.30" y1="5.60" x2="111.30" y2="7.60" stroke="#888" stroke-width="0.7"/>
<line x1="111.30" y1="109.60" x2="111.30" y2="107.60" stroke="#888" stroke-width="0.7"/>
<line x1="140.20" y1="5.60" x2="140.20" y2="7.60" stroke="#888" stroke-width="0.7"/>
<line x1="140.20" y1="109.60" x2="140.20" y2="107.60" stroke="#888" stroke-width="0.7"/>
<text x="38.80" y="9.70" font-size="11.7" text-anchor="end" font-weight="normal" fill="#262626">200</text>
<text x="38.80" y="30.50" font-size="11.7" text-anchor="end" font-weight="normal" fill="#262626">160</text>
<text x="38.80" y="51.30" font-size="11.7" text-anchor="end" font-weight="normal" fill="#262626">120</text>
<text x="38.80" y="72.10" font-size="11.7" text-anchor="end" font-weight="normal" fill="#262626">80</text>
<text x="38.80" y="92.90" font-size="11.7" text-anchor="end" font-weight="normal" fill="#262626">40</text>
<text x="38.80" y="113.70" font-size="11.7" text-anchor="end" font-weight="normal" fill="#262626">0</text>
<text x="53.50" y="123.50" font-size="11.7" text-anchor="middle" font-weight="normal" fill="#262626">1.9</text>
<text x="82.00" y="123.50" font-size="11.7" text-anchor="middle" font-weight="normal" fill="#262626">2.0</text>
<text x="111.30" y="123.50" font-size="11.7" text-anchor="middle" font-weight="normal" fill="#262626">2.2</text>
<text x="140.20" y="123.50" font-size="11.7" text-anchor="middle" font-weight="normal" fill="#262626">2.4</text>
<text x="73.50" y="137.60" font-size="11.7" text-anchor="start" font-weight="normal" fill="#262626" textLength="62.5" lengthAdjust="spacingAndGlyphs">Energy (eV)</text>
<text transform="translate(10.70,107.70) rotate(-90)" x="0" y="0" font-size="11.7" text-anchor="start" font-weight="normal" fill="#262626" textLength="99.3" lengthAdjust="spacingAndGlyphs">PL Intensity (ct/ms)</text>
<text x="51.30" y="18.90" font-size="12.4" text-anchor="start" font-weight="normal" fill="#262626">(a)</text>
<text x="121.70" y="17.00" font-size="11.2" text-anchor="start" font-weight="bold" fill="#C47A44" textLength="17.6" lengthAdjust="spacingAndGlyphs">WS</text>
<text x="139.90" y="20.30" font-size="8" text-anchor="start" font-weight="bold" fill="#C47A44">2</text>
<text x="80.20" y="33.40" font-size="12" text-anchor="start" font-weight="bold" fill="#111">λ</text>
<text x="87.20" y="36.40" font-size="8" text-anchor="start" font-weight="bold" fill="#111" textLength="12.2" lengthAdjust="spacingAndGlyphs">exc</text>
<text x="99.30" y="33.20" font-size="10.8" text-anchor="start" font-weight="bold" fill="#111" textLength="44.2" lengthAdjust="spacingAndGlyphs">=488nm</text>
<polygon points="45.80,253.50 45.80,225.73 46.30,222.53 46.80,219.10 47.30,215.45 47.80,211.61 48.30,207.59 48.80,203.43 49.30,199.17 49.80,194.87 50.30,190.60 50.80,186.45 51.30,182.54 51.80,179.02 52.30,176.07 52.80,173.85 53.30,172.52 53.80,172.18 54.30,172.85 54.80,174.48 55.30,176.95 55.80,180.08 56.30,183.70 56.80,187.65 57.30,191.80 57.80,196.04 58.30,200.27 58.80,204.44 59.30,208.50 59.80,212.41 60.30,216.14 60.80,219.67 61.30,222.99 61.80,226.07 62.30,228.93 62.80,231.55 63.30,233.93 63.80,236.09 64.30,238.03 64.80,239.76 65.30,241.29 65.80,242.64 66.30,243.83 66.80,244.86 67.30,245.75 67.80,246.53 68.30,247.19 68.80,247.77 69.30,248.26 69.80,248.69 70.30,249.05 70.80,249.37 71.30,249.64 71.80,249.87 72.30,250.08 72.80,250.26 73.30,250.42 73.80,250.57 74.30,250.70 74.80,250.81 75.30,250.92 75.80,251.02 76.30,251.11 76.80,251.19 77.30,251.27 77.80,251.34 78.30,251.41 78.80,251.47 79.30,251.53 79.80,251.58 80.30,251.64 80.80,251.69 81.30,251.73 81.80,251.78 82.30,251.82 82.80,251.86 83.30,251.90 83.80,251.94 84.30,251.97 84.80,252.00 85.30,252.03 85.80,252.06 86.30,252.09 86.80,252.12 87.30,252.15 87.80,252.17 88.30,252.20 88.80,252.22 89.30,252.24 89.80,252.26 90.30,252.28 90.80,252.30 91.30,252.32 91.80,252.34 92.30,252.36 92.80,252.37 93.30,252.39 93.80,252.40 94.30,252.42 94.80,252.43 95.30,252.45 95.80,252.46 96.30,252.47 96.80,252.48 97.30,252.50 97.80,252.51 98.30,252.52 98.80,252.53 99.30,252.54 99.80,252.55 100.30,252.56 100.80,252.57 101.30,252.58 101.80,252.59 102.30,252.60 102.80,252.60 103.30,252.61 103.80,252.62 104.30,252.63 104.80,252.63 105.30,252.64 105.80,252.65 106.30,252.66 106.80,252.66 107.30,252.67 107.80,252.67 108.30,252.68 108.80,252.69 109.30,252.69 109.80,252.70 110.30,252.70 110.80,252.71 111.30,252.71 111.80,252.72 112.30,252.72 112.80,252.73 113.30,252.73 113.80,252.74 114.30,252.74 114.80,252.75 115.30,252.75 115.80,252.75 116.30,252.76 116.80,252.76 117.30,252.77 117.80,252.77 118.30,252.77 118.80,252.78 119.30,252.78 119.80,252.78 120.30,252.79 120.80,252.79 121.30,252.79 121.80,252.80 122.30,252.80 122.80,252.80 123.30,252.80 123.80,252.81 124.30,252.81 124.80,252.81 125.30,252.82 125.80,252.82 126.30,252.82 126.80,252.82 127.30,252.83 127.80,252.83 128.30,252.83 128.80,252.83 129.30,252.83 129.80,252.84 130.30,252.84 130.80,252.84 131.30,252.84 131.80,252.85 132.30,252.85 132.80,252.85 133.30,252.85 133.80,252.85 134.30,252.85 134.80,252.86 135.30,252.86 135.80,252.86 136.30,252.86 136.80,252.86 137.30,252.87 137.80,252.87 138.30,252.87 138.80,252.87 139.30,252.87 139.80,252.87 140.30,252.87 140.80,252.88 141.30,252.88 141.80,252.88 142.30,252.88 142.80,252.88 143.30,252.88 143.80,252.88 144.30,252.89 144.80,252.89 145.30,252.89 145.80,252.89 146.30,252.89 146.80,252.89 147.30,252.89 147.80,252.89 148.30,252.89 148.80,252.90 149.30,252.90 149.80,252.90 150.30,252.90 150.80,252.90 151.30,252.90 151.80,252.90 152.30,252.90 152.80,252.90 153.30,252.91 153.80,252.91 154.30,252.91 154.80,252.91 155.30,252.91 155.80,252.91 156.30,252.91 156.80,252.91 157.30,252.91 157.80,252.91 158.30,252.91 158.80,252.92 159.30,252.92 159.80,252.92 160.30,252.92 160.80,252.92 161.30,252.92 161.80,252.92 162.30,252.92 162.40,253.50" fill="#FCFCEE" stroke="none"/>
<polygon points="45.80,253.50 45.80,247.57 46.30,246.83 46.80,246.01 47.30,245.09 47.80,244.08 48.30,242.98 48.80,241.79 49.30,240.50 49.80,239.13 50.30,237.68 50.80,236.16 51.30,234.59 51.80,232.96 52.30,231.31 52.80,229.66 53.30,228.04 53.80,226.49 54.30,225.07 54.80,223.84 55.30,222.87 55.80,222.22 56.30,221.93 56.80,222.03 57.30,222.52 57.80,223.34 58.30,224.45 58.80,225.78 59.30,227.25 59.80,228.82 60.30,230.44 60.80,232.08 61.30,233.69 61.80,235.27 62.30,236.80 62.80,238.26 63.30,239.65 63.80,240.96 64.30,242.18 64.80,243.32 65.30,244.36 65.80,245.31 66.30,246.18 66.80,246.96 67.30,247.65 67.80,248.27 68.30,248.82 68.80,249.30 69.30,249.72 69.80,250.08 70.30,250.40 70.80,250.67 71.30,250.90 71.80,251.11 72.30,251.28 72.80,251.43 73.30,251.56 73.80,251.67 74.30,251.76 74.80,251.85 75.30,251.92 75.80,251.99 76.30,252.04 76.80,252.10 77.30,252.14 77.80,252.18 78.30,252.22 78.80,252.26 79.30,252.29 79.80,252.32 80.30,252.35 80.80,252.38 81.30,252.40 81.80,252.43 82.30,252.45 82.80,252.47 83.30,252.49 83.80,252.51 84.30,252.52 84.80,252.54 85.30,252.56 85.80,252.57 86.30,252.59 86.80,252.60 87.30,252.61 87.80,252.62 88.30,252.64 88.80,252.65 89.30,252.66 89.80,252.67 90.30,252.68 90.80,252.69 91.30,252.70 91.80,252.70 92.30,252.71 92.80,252.72 93.30,252.73 93.80,252.74 94.30,252.74 94.80,252.75 95.30,252.76 95.80,252.76 96.30,252.77 96.80,252.77 97.30,252.78 97.80,252.78 98.30,252.79 98.80,252.80 99.30,252.80 99.80,252.80 100.30,252.81 100.80,252.81 101.30,252.82 101.80,252.82 102.30,252.83 102.80,252.83 103.30,252.83 103.80,252.84 104.30,252.84 104.80,252.84 105.30,252.85 105.80,252.85 106.30,252.85 106.80,252.86 107.30,252.86 107.80,252.86 108.30,252.86 108.80,252.87 109.30,252.87 109.80,252.87 110.30,252.87 110.80,252.88 111.30,252.88 111.80,252.88 112.30,252.88 112.80,252.89 113.30,252.89 113.80,252.89 114.30,252.89 114.80,252.89 115.30,252.89 115.80,252.90 116.30,252.90 116.80,252.90 117.30,252.90 117.80,252.90 118.30,252.90 118.80,252.91 119.30,252.91 119.80,252.91 120.30,252.91 120.80,252.91 121.30,252.91 121.80,252.91 122.30,252.92 122.80,252.92 123.30,252.92 123.80,252.92 124.30,252.92 124.80,252.92 125.30,252.92 125.80,252.92 126.30,252.93 126.80,252.93 127.30,252.93 127.80,252.93 128.30,252.93 128.80,252.93 129.30,252.93 129.80,252.93 130.30,252.93 130.80,252.93 131.30,252.94 131.80,252.94 132.30,252.94 132.80,252.94 133.30,252.94 133.80,252.94 134.30,252.94 134.80,252.94 135.30,252.94 135.80,252.94 136.30,252.94 136.80,252.94 137.30,252.94 137.80,252.95 138.30,252.95 138.80,252.95 139.30,252.95 139.80,252.95 140.30,252.95 140.80,252.95 141.30,252.95 141.80,252.95 142.30,252.95 142.80,252.95 143.30,252.95 143.80,252.95 144.30,252.95 144.80,252.95 145.30,252.95 145.80,252.95 146.30,252.96 146.80,252.96 147.30,252.96 147.80,252.96 148.30,252.96 148.80,252.96 149.30,252.96 149.80,252.96 150.30,252.96 150.80,252.96 151.30,252.96 151.80,252.96 152.30,252.96 152.80,252.96 153.30,252.96 153.80,252.96 154.30,252.96 154.80,252.96 155.30,252.96 155.80,252.96 156.30,252.96 156.80,252.96 157.30,252.96 157.80,252.96 158.30,252.97 158.80,252.97 159.30,252.97 159.80,252.97 160.30,252.97 160.80,252.97 161.30,252.97 161.80,252.97 162.30,252.97 162.40,253.50" fill="#E6F7FC" stroke="none"/>
<polyline points="45.80,225.63 46.30,222.43 46.80,219.00 47.30,215.35 47.80,211.51 48.30,207.49 48.80,203.33 49.30,199.07 49.80,194.77 50.30,190.50 50.80,186.35 51.30,182.44 51.80,178.92 52.30,175.97 52.80,173.75 53.30,172.42 53.80,172.08 54.30,172.75 54.80,174.38 55.30,176.85 55.80,179.98 56.30,183.60 56.80,187.55 57.30,191.70 57.80,195.94 58.30,200.17 58.80,204.34 59.30,208.40 59.80,212.31 60.30,216.04 60.80,219.57 61.30,222.89 61.80,225.97 62.30,228.83 62.80,231.45 63.30,233.83 63.80,235.99 64.30,237.93 64.80,239.66 65.30,241.19 65.80,242.54 66.30,243.73 66.80,244.76 67.30,245.65 67.80,246.43 68.30,247.09 68.80,247.67 69.30,248.16 69.80,248.59 70.30,248.95 70.80,249.27 71.30,249.54 71.80,249.77 72.30,249.98 72.80,250.16 73.30,250.32 73.80,250.47 74.30,250.60 74.80,250.71 75.30,250.82 75.80,250.92 76.30,251.01 76.80,251.09 77.30,251.17 77.80,251.24 78.30,251.31 78.80,251.37 79.30,251.43 79.80,251.48 80.30,251.54 80.80,251.59 81.30,251.63 81.80,251.68 82.30,251.72 82.80,251.76 83.30,251.80 83.80,251.84 84.30,251.87 84.80,251.90 85.30,251.93 85.80,251.96 86.30,251.99 86.80,252.02 87.30,252.05 87.80,252.07 88.30,252.10 88.80,252.12 89.30,252.14 89.80,252.16 90.30,252.18 90.80,252.20 91.30,252.22 91.80,252.24 92.30,252.26 92.80,252.27 93.30,252.29 93.80,252.30 94.30,252.32 94.80,252.33 95.30,252.35 95.80,252.36 96.30,252.37 96.80,252.38 97.30,252.40 97.80,252.41 98.30,252.42 98.80,252.43 99.30,252.44 99.80,252.45 100.30,252.46 100.80,252.47 101.30,252.48 101.80,252.49 102.30,252.50 102.80,252.50 103.30,252.51 103.80,252.52 104.30,252.53 104.80,252.53 105.30,252.54 105.80,252.55 106.30,252.56 106.80,252.56 107.30,252.57 107.80,252.57 108.30,252.58 108.80,252.59 109.30,252.59 109.80,252.60 110.30,252.60 110.80,252.61 111.30,252.61 111.80,252.62 112.30,252.62 112.80,252.63 113.30,252.63 113.80,252.64 114.30,252.64 114.80,252.65 115.30,252.65 115.80,252.65 116.30,252.66 116.80,252.66 117.30,252.67 117.80,252.67 118.30,252.67 118.80,252.68 119.30,252.68 119.80,252.68 120.30,252.69 120.80,252.69 121.30,252.69 121.80,252.70 122.30,252.70 122.80,252.70 123.30,252.70 123.80,252.71 124.30,252.71 124.80,252.71 125.30,252.72 125.80,252.72 126.30,252.72 126.80,252.72 127.30,252.73 127.80,252.73 128.30,252.73 128.80,252.73 129.30,252.73 129.80,252.74 130.30,252.74 130.80,252.74 131.30,252.74 131.80,252.75 132.30,252.75 132.80,252.75 133.30,252.75 133.80,252.75 134.30,252.75 134.80,252.76 135.30,252.76 135.80,252.76 136.30,252.76 136.80,252.76 137.30,252.77 137.80,252.77 138.30,252.77 138.80,252.77 139.30,252.77 139.80,252.77 140.30,252.77 140.80,252.78 141.30,252.78 141.80,252.78 142.30,252.78 142.80,252.78 143.30,252.78 143.80,252.78 144.30,252.79 144.80,252.79 145.30,252.79 145.80,252.79 146.30,252.79 146.80,252.79 147.30,252.79 147.80,252.79 148.30,252.79 148.80,252.80 149.30,252.80 149.80,252.80 150.30,252.80 150.80,252.80 151.30,252.80 151.80,252.80 152.30,252.80 152.80,252.80 153.30,252.81 153.80,252.81 154.30,252.81 154.80,252.81 155.30,252.81 155.80,252.81 156.30,252.81 156.80,252.81 157.30,252.81 157.80,252.81 158.30,252.81 158.80,252.82 159.30,252.82 159.80,252.82 160.30,252.82 160.80,252.82 161.30,252.82 161.80,252.82 162.30,252.82" fill="none" stroke="#B9CF5F" stroke-width="1.5" stroke-linejoin="round"/>
<polyline points="45.80,238.27 46.30,236.42 46.80,234.39 47.30,232.21 47.80,229.86 48.30,227.35 48.80,224.71 49.30,221.95 49.80,219.08 50.30,216.13 50.80,213.15 51.30,210.17 51.80,207.27 52.30,204.52 52.80,202.01 53.30,199.87 53.80,198.22 54.30,197.17 54.80,196.79 55.30,197.12 55.80,198.12 56.30,199.73 56.80,201.82 57.30,204.27 57.80,206.98 58.30,209.84 58.80,212.77 59.30,215.71 59.80,218.62 60.30,221.46 60.80,224.19 61.30,226.81 61.80,229.29 62.30,231.62 62.80,233.79 63.30,235.81 63.80,237.66 64.30,239.35 64.80,240.88 65.30,242.25 65.80,243.48 66.30,244.57 66.80,245.53 67.30,246.38 67.80,247.11 68.30,247.75 68.80,248.31 69.30,248.78 69.80,249.19 70.30,249.55 70.80,249.85 71.30,250.11 71.80,250.34 72.30,250.53 72.80,250.70 73.30,250.85 73.80,250.98 74.30,251.09 74.80,251.19 75.30,251.28 75.80,251.37 76.30,251.44 76.80,251.51 77.30,251.57 77.80,251.63 78.30,251.69 78.80,251.74 79.30,251.78 79.80,251.83 80.30,251.87 80.80,251.91 81.30,251.95 81.80,251.98 82.30,252.01 82.80,252.05 83.30,252.08 83.80,252.10 84.30,252.13 84.80,252.16 85.30,252.18 85.80,252.20 86.30,252.23 86.80,252.25 87.30,252.27 87.80,252.29 88.30,252.30 88.80,252.32 89.30,252.34 89.80,252.35 90.30,252.37 90.80,252.38 91.30,252.40 91.80,252.41 92.30,252.43 92.80,252.44 93.30,252.45 93.80,252.46 94.30,252.47 94.80,252.48 95.30,252.49 95.80,252.50 96.30,252.51 96.80,252.52 97.30,252.53 97.80,252.54 98.30,252.55 98.80,252.56 99.30,252.56 99.80,252.57 100.30,252.58 100.80,252.59 101.30,252.59 101.80,252.60 102.30,252.61 102.80,252.61 103.30,252.62 103.80,252.62 104.30,252.63 104.80,252.64 105.30,252.64 105.80,252.65 106.30,252.65 106.80,252.66 107.30,252.66 107.80,252.66 108.30,252.67 108.80,252.67 109.30,252.68 109.80,252.68 110.30,252.69 110.80,252.69 111.30,252.69 111.80,252.70 112.30,252.70 112.80,252.70 113.30,252.71 113.80,252.71 114.30,252.71 114.80,252.72 115.30,252.72 115.80,252.72 116.30,252.73 116.80,252.73 117.30,252.73 117.80,252.73 118.30,252.74 118.80,252.74 119.30,252.74 119.80,252.74 120.30,252.75 120.80,252.75 121.30,252.75 121.80,252.75 122.30,252.76 122.80,252.76 123.30,252.76 123.80,252.76 124.30,252.76 124.80,252.77 125.30,252.77 125.80,252.77 126.30,252.77 126.80,252.77 127.30,252.78 127.80,252.78 128.30,252.78 128.80,252.78 129.30,252.78 129.80,252.78 130.30,252.78 130.80,252.79 131.30,252.79 131.80,252.79 132.30,252.79 132.80,252.79 133.30,252.79 133.80,252.80 134.30,252.80 134.80,252.80 135.30,252.80 135.80,252.80 136.30,252.80 136.80,252.80 137.30,252.80 137.80,252.81 138.30,252.81 138.80,252.81 139.30,252.81 139.80,252.81 140.30,252.81 140.80,252.81 141.30,252.81 141.80,252.81 142.30,252.81 142.80,252.82 143.30,252.82 143.80,252.82 144.30,252.82 144.80,252.82 145.30,252.82 145.80,252.82 146.30,252.82 146.80,252.82 147.30,252.82 147.80,252.82 148.30,252.83 148.80,252.83 149.30,252.83 149.80,252.83 150.30,252.83 150.80,252.83 151.30,252.83 151.80,252.83 152.30,252.83 152.80,252.83 153.30,252.83 153.80,252.83 154.30,252.83 154.80,252.83 155.30,252.84 155.80,252.84 156.30,252.84 156.80,252.84 157.30,252.84 157.80,252.84 158.30,252.84 158.80,252.84 159.30,252.84 159.80,252.84 160.30,252.84 160.80,252.84 161.30,252.84 161.80,252.84 162.30,252.84" fill="none" stroke="#2F5B1E" stroke-width="1.5" stroke-linejoin="round"/>
<polyline points="45.80,247.47 46.30,246.73 46.80,245.91 47.30,244.99 47.80,243.98 48.30,242.88 48.80,241.69 49.30,240.40 49.80,239.03 50.30,237.58 50.80,236.06 51.30,234.49 51.80,232.86 52.30,231.21 52.80,229.56 53.30,227.94 53.80,226.39 54.30,224.97 54.80,223.74 55.30,222.77 55.80,222.12 56.30,221.83 56.80,221.93 57.30,222.42 57.80,223.24 58.30,224.35 58.80,225.68 59.30,227.15 59.80,228.72 60.30,230.34 60.80,231.98 61.30,233.59 61.80,235.17 62.30,236.70 62.80,238.16 63.30,239.55 63.80,240.86 64.30,242.08 64.80,243.22 65.30,244.26 65.80,245.21 66.30,246.08 66.80,246.86 67.30,247.55 67.80,248.17 68.30,248.72 68.80,249.20 69.30,249.62 69.80,249.98 70.30,250.30 70.80,250.57 71.30,250.80 71.80,251.01 72.30,251.18 72.80,251.33 73.30,251.46 73.80,251.57 74.30,251.66 74.80,251.75 75.30,251.82 75.80,251.89 76.30,251.94 76.80,252.00 77.30,252.04 77.80,252.08 78.30,252.12 78.80,252.16 79.30,252.19 79.80,252.22 80.30,252.25 80.80,252.28 81.30,252.30 81.80,252.33 82.30,252.35 82.80,252.37 83.30,252.39 83.80,252.41 84.30,252.42 84.80,252.44 85.30,252.46 85.80,252.47 86.30,252.49 86.80,252.50 87.30,252.51 87.80,252.52 88.30,252.54 88.80,252.55 89.30,252.56 89.80,252.57 90.30,252.58 90.80,252.59 91.30,252.60 91.80,252.60 92.30,252.61 92.80,252.62 93.30,252.63 93.80,252.64 94.30,252.64 94.80,252.65 95.30,252.66 95.80,252.66 96.30,252.67 96.80,252.67 97.30,252.68 97.80,252.68 98.30,252.69 98.80,252.70 99.30,252.70 99.80,252.70 100.30,252.71 100.80,252.71 101.30,252.72 101.80,252.72 102.30,252.73 102.80,252.73 103.30,252.73 103.80,252.74 104.30,252.74 104.80,252.74 105.30,252.75 105.80,252.75 106.30,252.75 106.80,252.76 107.30,252.76 107.80,252.76 108.30,252.76 108.80,252.77 109.30,252.77 109.80,252.77 110.30,252.77 110.80,252.78 111.30,252.78 111.80,252.78 112.30,252.78 112.80,252.79 113.30,252.79 113.80,252.79 114.30,252.79 114.80,252.79 115.30,252.79 115.80,252.80 116.30,252.80 116.80,252.80 117.30,252.80 117.80,252.80 118.30,252.80 118.80,252.81 119.30,252.81 119.80,252.81 120.30,252.81 120.80,252.81 121.30,252.81 121.80,252.81 122.30,252.82 122.80,252.82 123.30,252.82 123.80,252.82 124.30,252.82 124.80,252.82 125.30,252.82 125.80,252.82 126.30,252.83 126.80,252.83 127.30,252.83 127.80,252.83 128.30,252.83 128.80,252.83 129.30,252.83 129.80,252.83 130.30,252.83 130.80,252.83 131.30,252.84 131.80,252.84 132.30,252.84 132.80,252.84 133.30,252.84 133.80,252.84 134.30,252.84 134.80,252.84 135.30,252.84 135.80,252.84 136.30,252.84 136.80,252.84 137.30,252.84 137.80,252.85 138.30,252.85 138.80,252.85 139.30,252.85 139.80,252.85 140.30,252.85 140.80,252.85 141.30,252.85 141.80,252.85 142.30,252.85 142.80,252.85 143.30,252.85 143.80,252.85 144.30,252.85 144.80,252.85 145.30,252.85 145.80,252.85 146.30,252.86 146.80,252.86 147.30,252.86 147.80,252.86 148.30,252.86 148.80,252.86 149.30,252.86 149.80,252.86 150.30,252.86 150.80,252.86 151.30,252.86 151.80,252.86 152.30,252.86 152.80,252.86 153.30,252.86 153.80,252.86 154.30,252.86 154.80,252.86 155.30,252.86 155.80,252.86 156.30,252.86 156.80,252.86 157.30,252.86 157.80,252.86 158.30,252.87 158.80,252.87 159.30,252.87 159.80,252.87 160.30,252.87 160.80,252.87 161.30,252.87 161.80,252.87 162.30,252.87" fill="none" stroke="#86D8EC" stroke-width="1.1" stroke-linejoin="round"/>
<polyline points="45.80,249.56 46.30,249.11 46.80,248.61 47.30,248.05 47.80,247.44 48.30,246.77 48.80,246.05 49.30,245.28 49.80,244.46 50.30,243.60 50.80,242.70 51.30,241.76 51.80,240.80 52.30,239.84 52.80,238.88 53.30,237.94 53.80,237.07 54.30,236.28 54.80,235.61 55.30,235.11 55.80,234.82 56.30,234.74 56.80,234.89 57.30,235.26 57.80,235.81 58.30,236.51 58.80,237.33 59.30,238.22 59.80,239.15 60.30,240.10 60.80,241.05 61.30,241.99 61.80,242.90 62.30,243.78 62.80,244.62 63.30,245.41 63.80,246.16 64.30,246.85 64.80,247.49 65.30,248.08 65.80,248.62 66.30,249.10 66.80,249.54 67.30,249.92 67.80,250.27 68.30,250.57 68.80,250.84 69.30,251.07 69.80,251.27 70.30,251.45 70.80,251.60 71.30,251.72 71.80,251.84 72.30,251.93 72.80,252.01 73.30,252.08 73.80,252.14 74.30,252.20 74.80,252.24 75.30,252.29 75.80,252.32 76.30,252.35 76.80,252.38 77.30,252.41 77.80,252.43 78.30,252.45 78.80,252.47 79.30,252.49 79.80,252.51 80.30,252.53 80.80,252.54 81.30,252.56 81.80,252.57 82.30,252.58 82.80,252.59 83.30,252.60 83.80,252.62 84.30,252.63 84.80,252.63 85.30,252.64 85.80,252.65 86.30,252.66 86.80,252.67 87.30,252.68 87.80,252.68 88.30,252.69 88.80,252.70 89.30,252.70 89.80,252.71 90.30,252.71 90.80,252.72 91.30,252.72 91.80,252.73 92.30,252.73 92.80,252.74 93.30,252.74 93.80,252.75 94.30,252.75 94.80,252.76 95.30,252.76 95.80,252.76 96.30,252.77 96.80,252.77 97.30,252.77 97.80,252.78 98.30,252.78 98.80,252.78 99.30,252.78 99.80,252.79 100.30,252.79 100.80,252.79 101.30,252.79 101.80,252.80 102.30,252.80 102.80,252.80 103.30,252.80 103.80,252.81 104.30,252.81 104.80,252.81 105.30,252.81 105.80,252.81 106.30,252.81 106.80,252.82 107.30,252.82 107.80,252.82 108.30,252.82 108.80,252.82 109.30,252.82 109.80,252.83 110.30,252.83 110.80,252.83 111.30,252.83 111.80,252.83 112.30,252.83 112.80,252.83 113.30,252.83 113.80,252.84 114.30,252.84 114.80,252.84 115.30,252.84 115.80,252.84 116.30,252.84 116.80,252.84 117.30,252.84 117.80,252.84 118.30,252.84 118.80,252.85 119.30,252.85 119.80,252.85 120.30,252.85 120.80,252.85 121.30,252.85 121.80,252.85 122.30,252.85 122.80,252.85 123.30,252.85 123.80,252.85 124.30,252.85 124.80,252.85 125.30,252.86 125.80,252.86 126.30,252.86 126.80,252.86 127.30,252.86 127.80,252.86 128.30,252.86 128.80,252.86 129.30,252.86 129.80,252.86 130.30,252.86 130.80,252.86 131.30,252.86 131.80,252.86 132.30,252.86 132.80,252.86 133.30,252.86 133.80,252.86 134.30,252.87 134.80,252.87 135.30,252.87 135.80,252.87 136.30,252.87 136.80,252.87 137.30,252.87 137.80,252.87 138.30,252.87 138.80,252.87 139.30,252.87 139.80,252.87 140.30,252.87 140.80,252.87 141.30,252.87 141.80,252.87 142.30,252.87 142.80,252.87 143.30,252.87 143.80,252.87 144.30,252.87 144.80,252.87 145.30,252.87 145.80,252.87 146.30,252.87 146.80,252.87 147.30,252.87 147.80,252.87 148.30,252.88 148.80,252.88 149.30,252.88 149.80,252.88 150.30,252.88 150.80,252.88 151.30,252.88 151.80,252.88 152.30,252.88 152.80,252.88 153.30,252.88 153.80,252.88 154.30,252.88 154.80,252.88 155.30,252.88 155.80,252.88 156.30,252.88 156.80,252.88 157.30,252.88 157.80,252.88 158.30,252.88 158.80,252.88 159.30,252.88 159.80,252.88 160.30,252.88 160.80,252.88 161.30,252.88 161.80,252.88 162.30,252.88" fill="none" stroke="#10109A" stroke-width="1.8" stroke-linejoin="round"/>
<polyline points="45.80,252.55 46.30,252.50 46.80,252.45 47.30,252.39 47.80,252.33 48.30,252.26 48.80,252.19 49.30,252.11 49.80,252.02 50.30,251.93 50.80,251.84 51.30,251.75 51.80,251.65 52.30,251.56 52.80,251.46 53.30,251.37 53.80,251.28 54.30,251.21 54.80,251.15 55.30,251.11 55.80,251.09 56.30,251.09 56.80,251.11 57.30,251.16 57.80,251.22 58.30,251.29 58.80,251.38 59.30,251.47 59.80,251.56 60.30,251.66 60.80,251.75 61.30,251.85 61.80,251.94 62.30,252.02 62.80,252.10 63.30,252.18 63.80,252.25 64.30,252.32 64.80,252.38 65.30,252.44 65.80,252.49 66.30,252.54 66.80,252.58 67.30,252.62 67.80,252.65 68.30,252.68 68.80,252.70 69.30,252.73 69.80,252.74 70.30,252.76 70.80,252.77 71.30,252.79 71.80,252.80 72.30,252.81 72.80,252.81 73.30,252.82 73.80,252.83 74.30,252.83 74.80,252.84 75.30,252.84 75.80,252.84 76.30,252.85 76.80,252.85 77.30,252.85 77.80,252.85 78.30,252.86 78.80,252.86 79.30,252.86 79.80,252.86 80.30,252.86 80.80,252.86 81.30,252.87 81.80,252.87 82.30,252.87 82.80,252.87 83.30,252.87 83.80,252.87 84.30,252.87 84.80,252.87 85.30,252.87 85.80,252.88 86.30,252.88 86.80,252.88 87.30,252.88 87.80,252.88 88.30,252.88 88.80,252.88 89.30,252.88 89.80,252.88 90.30,252.88 90.80,252.88 91.30,252.88 91.80,252.88 92.30,252.88 92.80,252.88 93.30,252.88 93.80,252.88 94.30,252.89 94.80,252.89 95.30,252.89 95.80,252.89 96.30,252.89 96.80,252.89 97.30,252.89 97.80,252.89 98.30,252.89 98.80,252.89 99.30,252.89 99.80,252.89 100.30,252.89 100.80,252.89 101.30,252.89 101.80,252.89 102.30,252.89 102.80,252.89 103.30,252.89 103.80,252.89 104.30,252.89 104.80,252.89 105.30,252.89 105.80,252.89 106.30,252.89 106.80,252.89 107.30,252.89 107.80,252.89 108.30,252.89 108.80,252.89 109.30,252.89 109.80,252.89 110.30,252.89 110.80,252.89 111.30,252.89 111.80,252.89 112.30,252.89 112.80,252.89 113.30,252.89 113.80,252.89 114.30,252.89 114.80,252.89 115.30,252.89 115.80,252.89 116.30,252.89 116.80,252.89 117.30,252.89 117.80,252.89 118.30,252.89 118.80,252.89 119.30,252.89 119.80,252.89 120.30,252.89 120.80,252.89 121.30,252.90 121.80,252.90 122.30,252.90 122.80,252.90 123.30,252.90 123.80,252.90 124.30,252.90 124.80,252.90 125.30,252.90 125.80,252.90 126.30,252.90 126.80,252.90 127.30,252.90 127.80,252.90 128.30,252.90 128.80,252.90 129.30,252.90 129.80,252.90 130.30,252.90 130.80,252.90 131.30,252.90 131.80,252.90 132.30,252.90 132.80,252.90 133.30,252.90 133.80,252.90 134.30,252.90 134.80,252.90 135.30,252.90 135.80,252.90 136.30,252.90 136.80,252.90 137.30,252.90 137.80,252.90 138.30,252.90 138.80,252.90 139.30,252.90 139.80,252.90 140.30,252.90 140.80,252.90 141.30,252.90 141.80,252.90 142.30,252.90 142.80,252.90 143.30,252.90 143.80,252.90 144.30,252.90 144.80,252.90 145.30,252.90 145.80,252.90 146.30,252.90 146.80,252.90 147.30,252.90 147.80,252.90 148.30,252.90 148.80,252.90 149.30,252.90 149.80,252.90 150.30,252.90 150.80,252.90 151.30,252.90 151.80,252.90 152.30,252.90 152.80,252.90 153.30,252.90 153.80,252.90 154.30,252.90 154.80,252.90 155.30,252.90 155.80,252.90 156.30,252.90 156.80,252.90 157.30,252.90 157.80,252.90 158.30,252.90 158.80,252.90 159.30,252.90 159.80,252.90 160.30,252.90 160.80,252.90 161.30,252.90 161.80,252.90 162.30,252.90" fill="none" stroke="#C42222" stroke-width="1.5" stroke-linejoin="round"/>
<line x1="70.00" y1="252.60" x2="162.40" y2="252.60" stroke="#7CCFCF" stroke-width="1.3"/>
<rect x="95.8" y="181.6" width="63.8" height="49.70000000000002" fill="#fff"/>
<clipPath id="cid"><rect x="95.8" y="181.6" width="63.8" height="49.70000000000002"/></clipPath>
<g clip-path="url(#cid)">
<polyline points="106.30,179.60 106.40,180.29 106.54,181.24 106.71,182.36 106.89,183.59 107.09,184.82 107.30,186.00 107.52,187.13 107.74,188.29 107.99,189.46 108.24,190.64 108.52,191.83 108.80,193.00 109.10,194.17 109.41,195.35 109.74,196.53 110.08,197.70 110.43,198.86 110.80,200.00 111.18,201.12 111.58,202.24 111.99,203.34 112.41,204.43 112.85,205.48 113.30,206.50 113.77,207.49 114.24,208.44 114.74,209.38 115.24,210.28 115.77,211.15 116.30,212.00 116.85,212.83 117.43,213.66 118.02,214.45 118.61,215.20 119.21,215.89 119.80,216.50 120.39,217.03 120.99,217.50 121.58,217.90 122.17,218.25 122.75,218.55 123.30,218.80 123.82,219.00 124.30,219.15 124.77,219.24 125.24,219.30 125.75,219.31 126.30,219.30 126.91,219.25 127.56,219.16 128.24,219.04 128.93,218.88 129.62,218.70 130.30,218.50 130.97,218.28 131.63,218.02 132.30,217.74 132.97,217.44 133.63,217.13 134.30,216.80 134.97,216.44 135.63,216.03 136.30,215.61 136.97,215.19 137.63,214.82 138.30,214.50 138.98,214.24 139.67,214.01 140.36,213.81 141.04,213.66 141.69,213.55 142.30,213.50 142.85,213.50 143.34,213.55 143.80,213.64 144.26,213.79 144.75,213.97 145.30,214.20 145.91,214.49 146.56,214.86 147.24,215.27 147.93,215.70 148.62,216.12 149.30,216.50 149.94,216.85 150.54,217.20 151.14,217.53 151.77,217.86 152.48,218.18 153.30,218.50 154.33,218.83 155.55,219.18 156.85,219.53 158.09,219.84 159.15,220.11 159.90,220.30" fill="none" stroke="#F3F4C6" stroke-width="6" stroke-linejoin="round"/>
<polyline points="101.00,181.60 101.16,182.52 101.39,183.79 101.66,185.30 101.94,186.92 102.23,188.53 102.50,190.00 102.74,191.37 102.98,192.73 103.22,194.09 103.46,195.42 103.72,196.73 104.00,198.00 104.30,199.24 104.61,200.44 104.94,201.62 105.28,202.78 105.63,203.90 106.00,205.00 106.38,206.06 106.76,207.09 107.16,208.09 107.57,209.07 108.02,210.04 108.50,211.00 109.02,211.97 109.57,212.94 110.16,213.91 110.76,214.83 111.38,215.70 112.00,216.50 112.64,217.21 113.30,217.86 113.97,218.45 114.65,219.00 115.33,219.51 116.00,220.00 116.66,220.47 117.30,220.90 117.94,221.31 118.59,221.67 119.28,222.01 120.00,222.30 120.78,222.56 121.59,222.78 122.44,222.96 123.30,223.11 124.16,223.22 125.00,223.30 125.83,223.34 126.67,223.34 127.50,223.31 128.33,223.24 129.17,223.13 130.00,223.00 130.83,222.83 131.67,222.61 132.50,222.36 133.33,222.08 134.17,221.79 135.00,221.50 135.84,221.18 136.70,220.83 137.56,220.47 138.41,220.11 139.22,219.78 140.00,219.50 140.74,219.25 141.44,219.03 142.12,218.83 142.78,218.66 143.40,218.55 144.00,218.50 144.55,218.52 145.04,218.60 145.50,218.73 145.96,218.90 146.45,219.09 147.00,219.30 147.61,219.53 148.26,219.81 148.94,220.11 149.63,220.41 150.32,220.72 151.00,221.00 151.66,221.27 152.31,221.53 152.96,221.79 153.62,222.04 154.30,222.28 155.00,222.50 155.79,222.71 156.66,222.91 157.55,223.09 158.39,223.26 159.09,223.40 159.60,223.50" fill="none" stroke="#DDF5FA" stroke-width="5" stroke-linejoin="round"/>
<polyline points="106.30,179.60 106.40,180.29 106.54,181.24 106.71,182.36 106.89,183.59 107.09,184.82 107.30,186.00 107.52,187.13 107.74,188.29 107.99,189.46 108.24,190.64 108.52,191.83 108.80,193.00 109.10,194.17 109.41,195.35 109.74,196.53 110.08,197.70 110.43,198.86 110.80,200.00 111.18,201.12 111.58,202.24 111.99,203.34 112.41,204.43 112.85,205.48 113.30,206.50 113.77,207.49 114.24,208.44 114.74,209.38 115.24,210.28 115.77,211.15 116.30,212.00 116.85,212.83 117.43,213.66 118.02,214.45 118.61,215.20 119.21,215.89 119.80,216.50 120.39,217.03 120.99,217.50 121.58,217.90 122.17,218.25 122.75,218.55 123.30,218.80 123.82,219.00 124.30,219.15 124.77,219.24 125.24,219.30 125.75,219.31 126.30,219.30 126.91,219.25 127.56,219.16 128.24,219.04 128.93,218.88 129.62,218.70 130.30,218.50 130.97,218.28 131.63,218.02 132.30,217.74 132.97,217.44 133.63,217.13 134.30,216.80 134.97,216.44 135.63,216.03 136.30,215.61 136.97,215.19 137.63,214.82 138.30,214.50 138.98,214.24 139.67,214.01 140.36,213.81 141.04,213.66 141.69,213.55 142.30,213.50 142.85,213.50 143.34,213.55 143.80,213.64 144.26,213.79 144.75,213.97 145.30,214.20 145.91,214.49 146.56,214.86 147.24,215.27 147.93,215.70 148.62,216.12 149.30,216.50 149.94,216.85 150.54,217.20 151.14,217.53 151.77,217.86 152.48,218.18 153.30,218.50 154.33,218.83 155.55,219.18 156.85,219.53 158.09,219.84 159.15,220.11 159.90,220.30" fill="none" stroke="#B9CF5F" stroke-width="1.8" stroke-linejoin="round"/>
<polyline points="106.00,181.60 106.10,182.29 106.24,183.24 106.41,184.36 106.59,185.59 106.79,186.82 107.00,188.00 107.22,189.13 107.44,190.29 107.69,191.46 107.94,192.64 108.22,193.83 108.50,195.00 108.80,196.17 109.11,197.35 109.44,198.53 109.78,199.70 110.13,200.86 110.50,202.00 110.88,203.12 111.28,204.24 111.69,205.34 112.11,206.43 112.55,207.48 113.00,208.50 113.47,209.49 113.94,210.44 114.44,211.38 114.94,212.28 115.47,213.15 116.00,214.00 116.55,214.83 117.13,215.66 117.72,216.45 118.31,217.20 118.91,217.89 119.50,218.50 120.09,219.03 120.69,219.50 121.28,219.90 121.87,220.25 122.45,220.55 123.00,220.80 123.52,221.00 124.00,221.15 124.47,221.24 124.94,221.30 125.45,221.31 126.00,221.30 126.61,221.25 127.26,221.16 127.94,221.04 128.63,220.88 129.32,220.70 130.00,220.50 130.67,220.28 131.33,220.02 132.00,219.74 132.67,219.44 133.33,219.13 134.00,218.80 134.67,218.44 135.33,218.03 136.00,217.61 136.67,217.19 137.33,216.82 138.00,216.50 138.68,216.24 139.37,216.01 140.06,215.81 140.74,215.66 141.39,215.55 142.00,215.50 142.55,215.50 143.04,215.55 143.50,215.64 143.96,215.79 144.45,215.97 145.00,216.20 145.61,216.49 146.26,216.86 146.94,217.27 147.63,217.70 148.32,218.12 149.00,218.50 149.64,218.85 150.24,219.20 150.84,219.53 151.47,219.86 152.18,220.18 153.00,220.50 154.03,220.83 155.25,221.18 156.55,221.53 157.79,221.84 158.85,222.11 159.60,222.30" fill="none" stroke="#2F5B1E" stroke-width="1.3" stroke-linejoin="round"/>
<polyline points="101.00,181.60 101.16,182.52 101.39,183.79 101.66,185.30 101.94,186.92 102.23,188.53 102.50,190.00 102.74,191.37 102.98,192.73 103.22,194.09 103.46,195.42 103.72,196.73 104.00,198.00 104.30,199.24 104.61,200.44 104.94,201.62 105.28,202.78 105.63,203.90 106.00,205.00 106.38,206.06 106.76,207.09 107.16,208.09 107.57,209.07 108.02,210.04 108.50,211.00 109.02,211.97 109.57,212.94 110.16,213.91 110.76,214.83 111.38,215.70 112.00,216.50 112.64,217.21 113.30,217.86 113.97,218.45 114.65,219.00 115.33,219.51 116.00,220.00 116.66,220.47 117.30,220.90 117.94,221.31 118.59,221.67 119.28,222.01 120.00,222.30 120.78,222.56 121.59,222.78 122.44,222.96 123.30,223.11 124.16,223.22 125.00,223.30 125.83,223.34 126.67,223.34 127.50,223.31 128.33,223.24 129.17,223.13 130.00,223.00 130.83,222.83 131.67,222.61 132.50,222.36 133.33,222.08 134.17,221.79 135.00,221.50 135.84,221.18 136.70,220.83 137.56,220.47 138.41,220.11 139.22,219.78 140.00,219.50 140.74,219.25 141.44,219.03 142.12,218.83 142.78,218.66 143.40,218.55 144.00,218.50 144.55,218.52 145.04,218.60 145.50,218.73 145.96,218.90 146.45,219.09 147.00,219.30 147.61,219.53 148.26,219.81 148.94,220.11 149.63,220.41 150.32,220.72 151.00,221.00 151.66,221.27 152.31,221.53 152.96,221.79 153.62,222.04 154.30,222.28 155.00,222.50 155.79,222.71 156.66,222.91 157.55,223.09 158.39,223.26 159.09,223.40 159.60,223.50" fill="none" stroke="#86D8EC" stroke-width="1.2" stroke-linejoin="round"/>
<polyline points="98.60,181.60 98.73,182.52 98.90,183.79 99.11,185.30 99.34,186.92 99.57,188.53 99.80,190.00 100.02,191.37 100.24,192.73 100.46,194.09 100.70,195.42 100.94,196.73 101.20,198.00 101.47,199.24 101.76,200.44 102.05,201.62 102.36,202.78 102.67,203.90 103.00,205.00 103.34,206.06 103.68,207.09 104.04,208.09 104.41,209.07 104.79,210.04 105.20,211.00 105.62,211.96 106.06,212.91 106.52,213.86 106.99,214.77 107.49,215.66 108.00,216.50 108.54,217.30 109.10,218.07 109.67,218.81 110.27,219.51 110.88,220.17 111.50,220.80 112.13,221.39 112.78,221.95 113.44,222.48 114.11,222.96 114.80,223.40 115.50,223.80 116.22,224.15 116.94,224.45 117.69,224.71 118.44,224.93 119.22,225.13 120.00,225.30 120.80,225.45 121.63,225.58 122.47,225.68 123.31,225.74 124.16,225.79 125.00,225.80 125.83,225.78 126.67,225.74 127.50,225.66 128.33,225.56 129.17,225.44 130.00,225.30 130.84,225.13 131.70,224.93 132.56,224.71 133.41,224.48 134.22,224.24 135.00,224.00 135.72,223.76 136.41,223.50 137.06,223.24 137.70,222.99 138.34,222.73 139.00,222.50 139.68,222.27 140.37,222.02 141.06,221.79 141.74,221.58 142.39,221.41 143.00,221.30 143.55,221.25 144.04,221.25 144.50,221.29 144.96,221.36 145.45,221.47 146.00,221.60 146.61,221.77 147.26,221.98 147.94,222.22 148.63,222.49 149.32,222.75 150.00,223.00 150.65,223.25 151.27,223.51 151.90,223.78 152.55,224.03 153.24,224.28 154.00,224.50 154.91,224.71 155.96,224.91 157.05,225.09 158.09,225.26 158.97,225.40 159.60,225.50" fill="none" stroke="#2233BB" stroke-width="1.2" stroke-linejoin="round"/>
<polyline points="95.80,218.00 95.98,218.33 96.23,218.79 96.52,219.33 96.85,219.90 97.18,220.48 97.50,221.00 97.81,221.49 98.13,221.97 98.45,222.45 98.79,222.92 99.13,223.37 99.50,223.80 99.88,224.21 100.28,224.59 100.69,224.96 101.11,225.32 101.55,225.66 102.00,226.00 102.47,226.33 102.96,226.66 103.47,226.97 103.98,227.27 104.49,227.55 105.00,227.80 105.49,228.02 105.96,228.21 106.44,228.38 106.93,228.53 107.44,228.67 108.00,228.80 108.56,228.93 109.11,229.04 109.69,229.15 110.33,229.24 111.09,229.33 112.00,229.40 113.10,229.46 114.37,229.51 115.75,229.55 117.19,229.58 118.62,229.59 120.00,229.60 121.34,229.60 122.70,229.59 124.06,229.57 125.41,229.53 126.72,229.48 128.00,229.40 129.25,229.30 130.48,229.17 131.69,229.02 132.85,228.86 133.96,228.68 135.00,228.50 135.96,228.30 136.85,228.09 137.69,227.86 138.48,227.63 139.25,227.40 140.00,227.20 140.72,227.00 141.41,226.79 142.06,226.58 142.70,226.40 143.34,226.27 144.00,226.20 144.66,226.20 145.30,226.27 145.94,226.37 146.59,226.51 147.28,226.66 148.00,226.80 148.76,226.95 149.53,227.12 150.34,227.31 151.18,227.49 152.06,227.66 153.00,227.80 154.08,227.92 155.33,228.02 156.61,228.11 157.83,228.19 158.86,228.25 159.60,228.30" fill="none" stroke="#C42222" stroke-width="1.3" stroke-linejoin="round"/>
</g>
<rect x="95.80" y="181.60" width="63.80" height="49.70" fill="none" stroke="#282828" stroke-width="1.25"/>
<line x1="108.60" y1="181.60" x2="108.60" y2="183.40" stroke="#888" stroke-width="0.6"/>
<line x1="108.60" y1="231.30" x2="108.60" y2="229.50" stroke="#888" stroke-width="0.6"/>
<line x1="141.40" y1="181.60" x2="141.40" y2="183.40" stroke="#888" stroke-width="0.6"/>
<line x1="141.40" y1="231.30" x2="141.40" y2="229.50" stroke="#888" stroke-width="0.6"/>
<line x1="95.80" y1="191.00" x2="97.60" y2="191.00" stroke="#888" stroke-width="0.6"/>
<line x1="159.60" y1="191.00" x2="157.80" y2="191.00" stroke="#888" stroke-width="0.6"/>
<line x1="95.80" y1="212.50" x2="97.60" y2="212.50" stroke="#888" stroke-width="0.6"/>
<line x1="159.60" y1="212.50" x2="157.80" y2="212.50" stroke="#888" stroke-width="0.6"/>
<text x="112.00" y="239.50" font-size="8.3" text-anchor="middle" font-weight="normal" fill="#262626" stroke="#262626" stroke-width="0.3">1.8</text>
<text x="141.60" y="239.50" font-size="8.3" text-anchor="middle" font-weight="normal" fill="#262626" stroke="#262626" stroke-width="0.3">2.0</text>
<text x="110.70" y="246.60" font-size="8.3" text-anchor="start" font-weight="normal" fill="#262626" textLength="43.3" lengthAdjust="spacingAndGlyphs" stroke="#262626" stroke-width="0.3">Energy (eV)</text>
<text transform="translate(94.00,191.00) rotate(-90)" x="0" y="0" font-size="8.3" text-anchor="middle" font-weight="normal" fill="#262626" stroke="#262626" stroke-width="0.3">0.08</text>
<text transform="translate(94.00,213.20) rotate(-90)" x="0" y="0" font-size="8.3" text-anchor="middle" font-weight="normal" fill="#262626" stroke="#262626" stroke-width="0.3">0.04</text>
<text transform="translate(82.50,221.20) rotate(-90)" x="0" y="0" font-size="8.8" text-anchor="start" font-weight="normal" fill="#262626" textLength="32.6" lengthAdjust="spacingAndGlyphs" stroke="#262626" stroke-width="0.3">PL ct/ms</text>
<rect x="45.80" y="149.80" width="116.60" height="104.30" fill="none" stroke="#1a1a1a" stroke-width="1.5"/>
<line x1="45.80" y1="226.10" x2="47.80" y2="226.10" stroke="#888" stroke-width="0.7"/>
<line x1="162.40" y1="226.10" x2="160.40" y2="226.10" stroke="#888" stroke-width="0.7"/>
<line x1="45.80" y1="198.70" x2="47.80" y2="198.70" stroke="#888" stroke-width="0.7"/>
<line x1="162.40" y1="198.70" x2="160.40" y2="198.70" stroke="#888" stroke-width="0.7"/>
<line x1="45.80" y1="171.30" x2="47.80" y2="171.30" stroke="#888" stroke-width="0.7"/>
<line x1="162.40" y1="171.30" x2="160.40" y2="171.30" stroke="#888" stroke-width="0.7"/>
<line x1="55.50" y1="149.80" x2="55.50" y2="151.80" stroke="#888" stroke-width="0.7"/>
<line x1="55.50" y1="254.10" x2="55.50" y2="252.10" stroke="#888" stroke-width="0.7"/>
<line x1="94.50" y1="149.80" x2="94.50" y2="151.80" stroke="#888" stroke-width="0.7"/>
<line x1="94.50" y1="254.10" x2="94.50" y2="252.10" stroke="#888" stroke-width="0.7"/>
<line x1="132.80" y1="149.80" x2="132.80" y2="151.80" stroke="#888" stroke-width="0.7"/>
<line x1="132.80" y1="254.10" x2="132.80" y2="252.10" stroke="#888" stroke-width="0.7"/>
<text x="41.30" y="174.90" font-size="12.2" text-anchor="end" font-weight="normal" fill="#262626">30</text>
<text x="41.30" y="202.50" font-size="12.2" text-anchor="end" font-weight="normal" fill="#262626">20</text>
<text x="41.30" y="229.60" font-size="12.2" text-anchor="end" font-weight="normal" fill="#262626">10</text>
<text x="41.30" y="257.30" font-size="12.2" text-anchor="end" font-weight="normal" fill="#262626">0</text>
<text x="54.60" y="268.20" font-size="12.2" text-anchor="middle" font-weight="normal" fill="#262626">1.6</text>
<text x="94.20" y="268.20" font-size="12.2" text-anchor="middle" font-weight="normal" fill="#262626">1.8</text>
<text x="131.80" y="268.20" font-size="12.2" text-anchor="middle" font-weight="normal" fill="#262626">2.0</text>
<text x="73.40" y="280.80" font-size="11.7" text-anchor="start" font-weight="normal" fill="#262626" textLength="62.6" lengthAdjust="spacingAndGlyphs">Energy (eV)</text>
<text transform="translate(18.30,255.60) rotate(-90)" x="0" y="0" font-size="11.7" text-anchor="start" font-weight="normal" fill="#262626" textLength="97.2" lengthAdjust="spacingAndGlyphs">PL Intensity (ct/ms)</text>
<text x="52.30" y="163.00" font-size="12.4" text-anchor="start" font-weight="normal" fill="#262626">(d)</text>
<text x="124.80" y="161.20" font-size="11" text-anchor="start" font-weight="bold" fill="#2634B8" textLength="23.5" lengthAdjust="spacingAndGlyphs">WSe</text>
<text x="148.60" y="164.60" font-size="8" text-anchor="start" font-weight="bold" fill="#2634B8">2</text>
<text x="89.80" y="177.20" font-size="12" text-anchor="start" font-weight="bold" fill="#111">λ</text>
<text x="96.90" y="179.80" font-size="8" text-anchor="start" font-weight="bold" fill="#111" textLength="12.2" lengthAdjust="spacingAndGlyphs">exc</text>
<text x="109.20" y="177.00" font-size="10.8" text-anchor="start" font-weight="bold" fill="#111" textLength="43.5" lengthAdjust="spacingAndGlyphs">=488nm</text>
<line x1="224" y1="91.5" x2="333" y2="18" stroke="#3d4a5c" stroke-width="1.1" stroke-dasharray="1.8,3.9"/>
<polygon points="264.30,64.80 267.90,68.40 264.30,72.00 260.70,68.40" fill="#D8681E"/>
<polygon points="248.00,68.30 251.60,71.90 248.00,75.50 244.40,71.90" fill="#D8681E"/>
<polygon points="245.20,73.20 248.80,76.80 245.20,80.40 241.60,76.80" fill="#D8681E"/>
<polygon points="226.30,86.90 229.90,90.50 226.30,94.10 222.70,90.50" fill="#D8681E"/>
<polygon points="228.50,84.90 232.10,88.50 228.50,92.10 224.90,88.50" fill="#D8681E"/>
<polygon points="231.00,83.70 234.60,87.30 231.00,90.90 227.40,87.30" fill="#D8681E"/>
<polygon points="233.50,82.40 237.10,86.00 233.50,89.60 229.90,86.00" fill="#D8681E"/>
<polygon points="236.00,81.10 239.60,84.70 236.00,88.30 232.40,84.70" fill="#D8681E"/>
<polygon points="238.50,79.60 242.10,83.20 238.50,86.80 234.90,83.20" fill="#D8681E"/>
<polygon points="241.00,78.40 244.60,82.00 241.00,85.60 237.40,82.00" fill="#D8681E"/>
<polygon points="227.50,89.40 231.10,93.00 227.50,96.60 223.90,93.00" fill="#D8681E"/>
<polygon points="229.60,91.80 233.20,95.40 229.60,99.00 226.00,95.40" fill="#D8681E"/>
<polygon points="277.10,57.00 280.70,60.60 277.10,64.20 273.50,60.60" fill="#D8681E"/>
<polygon points="279.00,55.10 282.60,58.70 279.00,62.30 275.40,58.70" fill="#D8681E"/>
<polygon points="283.20,49.40 286.80,53.00 283.20,56.60 279.60,53.00" fill="#D8681E"/>
<polygon points="289.80,44.60 293.40,48.20 289.80,51.80 286.20,48.20" fill="#D8681E"/>
<polygon points="291.20,39.20 294.80,42.80 291.20,46.40 287.60,42.80" fill="#D8681E"/>
<polygon points="298.50,38.00 302.10,41.60 298.50,45.20 294.90,41.60" fill="#D8681E"/>
<polygon points="314.90,29.40 318.50,33.00 314.90,36.60 311.30,33.00" fill="#D8681E"/>
<polygon points="317.80,25.10 321.40,28.70 317.80,32.30 314.20,28.70" fill="#D8681E"/>
<polygon points="329.20,16.90 332.80,20.50 329.20,24.10 325.60,20.50" fill="#D8681E"/>
<rect x="220.50" y="5.35" width="116.60" height="106.75" fill="none" stroke="#1a1a1a" stroke-width="1.5"/>
<line x1="220.50" y1="81.40" x2="222.50" y2="81.40" stroke="#888" stroke-width="0.7"/>
<line x1="337.10" y1="81.40" x2="335.10" y2="81.40" stroke="#888" stroke-width="0.7"/>
<line x1="220.50" y1="51.00" x2="222.50" y2="51.00" stroke="#888" stroke-width="0.7"/>
<line x1="337.10" y1="51.00" x2="335.10" y2="51.00" stroke="#888" stroke-width="0.7"/>
<line x1="220.50" y1="20.60" x2="222.50" y2="20.60" stroke="#888" stroke-width="0.7"/>
<line x1="337.10" y1="20.60" x2="335.10" y2="20.60" stroke="#888" stroke-width="0.7"/>
<line x1="223.60" y1="5.35" x2="223.60" y2="7.35" stroke="#888" stroke-width="0.7"/>
<line x1="223.60" y1="112.10" x2="223.60" y2="110.10" stroke="#888" stroke-width="0.7"/>
<line x1="266.10" y1="5.35" x2="266.10" y2="7.35" stroke="#888" stroke-width="0.7"/>
<line x1="266.10" y1="112.10" x2="266.10" y2="110.10" stroke="#888" stroke-width="0.7"/>
<line x1="308.61" y1="5.35" x2="308.61" y2="7.35" stroke="#888" stroke-width="0.7"/>
<line x1="308.61" y1="112.10" x2="308.61" y2="110.10" stroke="#888" stroke-width="0.7"/>
<text x="215.60" y="23.10" font-size="10.8" text-anchor="end" font-weight="normal" fill="#262626">0.03</text>
<text x="215.60" y="53.90" font-size="10.8" text-anchor="end" font-weight="normal" fill="#262626">0.02</text>
<text x="215.60" y="84.80" font-size="10.8" text-anchor="end" font-weight="normal" fill="#262626">0.01</text>
<text x="215.60" y="115.10" font-size="10.8" text-anchor="end" font-weight="normal" fill="#262626">0</text>
<text x="223.90" y="124.50" font-size="10.8" text-anchor="middle" font-weight="normal" fill="#262626">0</text>
<text x="266.40" y="124.50" font-size="10.8" text-anchor="middle" font-weight="normal" fill="#262626">75</text>
<text x="308.91" y="124.50" font-size="10.8" text-anchor="middle" font-weight="normal" fill="#262626">150</text>
<text x="235.00" y="139.30" font-size="10.8" text-anchor="start" font-weight="normal" fill="#262626" textLength="86.3" lengthAdjust="spacingAndGlyphs">A-Intensity (ct/ms)</text>
<text transform="translate(188.20,103.40) rotate(-90)" x="0" y="0" font-size="10.8" text-anchor="start" font-weight="normal" fill="#262626" textLength="86.6" lengthAdjust="spacingAndGlyphs">B-Intensity (ct/ms)</text>
<text x="224.30" y="18.90" font-size="12.4" text-anchor="start" font-weight="normal" fill="#262626">(b)</text>
<text x="236.5" y="102.3" font-size="10.8" fill="#262626" textLength="89.3" lengthAdjust="spacingAndGlyphs"><tspan font-style="italic">y</tspan>=0.0061+0.0001<tspan font-style="italic">x</tspan></text>
<line x1="226" y1="229.5" x2="324" y2="162.5" stroke="#3d4a5c" stroke-width="1.1" stroke-dasharray="1.8,3.9"/>
<polygon points="316.80,150.90 320.50,154.60 316.80,158.30 313.10,154.60" fill="#0A0ABA"/>
<polygon points="281.30,166.60 285.00,170.30 281.30,174.00 277.60,170.30" fill="#0A0ABA"/>
<polygon points="288.80,167.50 292.50,171.20 288.80,174.90 285.10,171.20" fill="#0A0ABA"/>
<polygon points="295.60,166.50 299.30,170.20 295.60,173.90 291.90,170.20" fill="#0A0ABA"/>
<polygon points="302.90,162.70 306.60,166.40 302.90,170.10 299.20,166.40" fill="#0A0ABA"/>
<polygon points="308.00,167.10 311.70,170.80 308.00,174.50 304.30,170.80" fill="#0A0ABA"/>
<polygon points="315.20,169.50 318.90,173.20 315.20,176.90 311.50,173.20" fill="#0A0ABA"/>
<polygon points="320.50,165.30 324.20,169.00 320.50,172.70 316.80,169.00" fill="#0A0ABA"/>
<polygon points="327.50,165.90 331.20,169.60 327.50,173.30 323.80,169.60" fill="#0A0ABA"/>
<polygon points="295.80,175.30 299.50,179.00 295.80,182.70 292.10,179.00" fill="#0A0ABA"/>
<polygon points="301.00,176.50 304.70,180.20 301.00,183.90 297.30,180.20" fill="#0A0ABA"/>
<polygon points="298.40,183.60 302.10,187.30 298.40,191.00 294.70,187.30" fill="#0A0ABA"/>
<polygon points="312.70,177.50 316.40,181.20 312.70,184.90 309.00,181.20" fill="#0A0ABA"/>
<polygon points="312.70,179.80 316.40,183.50 312.70,187.20 309.00,183.50" fill="#0A0ABA"/>
<polygon points="259.50,187.70 263.20,191.40 259.50,195.10 255.80,191.40" fill="#0A0ABA"/>
<polygon points="245.30,202.10 249.00,205.80 245.30,209.50 241.60,205.80" fill="#0A0ABA"/>
<polygon points="243.40,216.40 247.10,220.10 243.40,223.80 239.70,220.10" fill="#0A0ABA"/>
<polygon points="226.40,228.40 230.10,232.10 226.40,235.80 222.70,232.10" fill="#0A0ABA"/>
<polygon points="228.20,235.90 231.90,239.60 228.20,243.30 224.50,239.60" fill="#0A0ABA"/>
<polygon points="226.60,238.90 230.30,242.60 226.60,246.30 222.90,242.60" fill="#0A0ABA"/>
<rect x="220.10" y="149.60" width="116.80" height="107.00" fill="none" stroke="#1a1a1a" stroke-width="1.5"/>
<line x1="220.10" y1="245.50" x2="222.10" y2="245.50" stroke="#888" stroke-width="0.7"/>
<line x1="336.90" y1="245.50" x2="334.90" y2="245.50" stroke="#888" stroke-width="0.7"/>
<line x1="220.10" y1="195.30" x2="222.10" y2="195.30" stroke="#888" stroke-width="0.7"/>
<line x1="336.90" y1="195.30" x2="334.90" y2="195.30" stroke="#888" stroke-width="0.7"/>
<line x1="223.50" y1="149.60" x2="223.50" y2="151.60" stroke="#888" stroke-width="0.7"/>
<line x1="223.50" y1="256.60" x2="223.50" y2="254.60" stroke="#888" stroke-width="0.7"/>
<line x1="255.00" y1="149.60" x2="255.00" y2="151.60" stroke="#888" stroke-width="0.7"/>
<line x1="255.00" y1="256.60" x2="255.00" y2="254.60" stroke="#888" stroke-width="0.7"/>
<line x1="286.50" y1="149.60" x2="286.50" y2="151.60" stroke="#888" stroke-width="0.7"/>
<line x1="286.50" y1="256.60" x2="286.50" y2="254.60" stroke="#888" stroke-width="0.7"/>
<line x1="318.00" y1="149.60" x2="318.00" y2="151.60" stroke="#888" stroke-width="0.7"/>
<line x1="318.00" y1="256.60" x2="318.00" y2="254.60" stroke="#888" stroke-width="0.7"/>
<text x="215.40" y="198.80" font-size="10.8" text-anchor="end" font-weight="normal" fill="#262626">0.02</text>
<text x="215.40" y="248.50" font-size="10.8" text-anchor="end" font-weight="normal" fill="#262626">0.01</text>
<text x="223.90" y="270.00" font-size="10.8" text-anchor="middle" font-weight="normal" fill="#262626">0</text>
<text x="255.40" y="270.00" font-size="10.8" text-anchor="middle" font-weight="normal" fill="#262626">10</text>
<text x="286.90" y="270.00" font-size="10.8" text-anchor="middle" font-weight="normal" fill="#262626">20</text>
<text x="318.40" y="270.00" font-size="10.8" text-anchor="middle" font-weight="normal" fill="#262626">30</text>
<text x="235.00" y="281.60" font-size="10.8" text-anchor="start" font-weight="normal" fill="#262626" textLength="86.3" lengthAdjust="spacingAndGlyphs">A-Intensity (ct/ms)</text>
<text transform="translate(189.00,246.20) rotate(-90)" x="0" y="0" font-size="10.8" text-anchor="start" font-weight="normal" fill="#262626" textLength="86.4" lengthAdjust="spacingAndGlyphs">B-Intensity (ct/ms)</text>
<text x="224.30" y="163.00" font-size="12.4" text-anchor="start" font-weight="normal" fill="#262626">(e)</text>
<text x="237.7" y="246" font-size="10.8" fill="#262626" textLength="88.4" lengthAdjust="spacingAndGlyphs"><tspan font-style="italic">y</tspan>=0.0131+0.0004<tspan font-style="italic">x</tspan></text>
<polygon points="407.30,38.50 410.90,42.10 407.30,45.70 403.70,42.10" fill="#D8681E"/>
<polygon points="407.30,42.30 410.90,45.90 407.30,49.50 403.70,45.90" fill="#D8681E"/>
<polygon points="409.20,58.90 412.80,62.50 409.20,66.10 405.60,62.50" fill="#D8681E"/>
<polygon points="412.00,79.40 415.60,83.00 412.00,86.60 408.40,83.00" fill="#D8681E"/>
<polygon points="411.00,83.90 414.60,87.50 411.00,91.10 407.40,87.50" fill="#D8681E"/>
<polygon points="410.40,85.90 414.00,89.50 410.40,93.10 406.80,89.50" fill="#D8681E"/>
<polygon points="414.00,87.40 417.60,91.00 414.00,94.60 410.40,91.00" fill="#D8681E"/>
<polygon points="417.30,91.40 420.90,95.00 417.30,98.60 413.70,95.00" fill="#D8681E"/>
<polygon points="420.80,93.80 424.40,97.40 420.80,101.00 417.20,97.40" fill="#D8681E"/>
<polygon points="427.30,96.10 430.90,99.70 427.30,103.30 423.70,99.70" fill="#D8681E"/>
<polygon points="428.90,96.80 432.50,100.40 428.90,104.00 425.30,100.40" fill="#D8681E"/>
<polygon points="445.50,101.90 449.10,105.50 445.50,109.10 441.90,105.50" fill="#D8681E"/>
<polygon points="458.50,102.90 462.10,106.50 458.50,110.10 454.90,106.50" fill="#D8681E"/>
<polygon points="461.50,102.60 465.10,106.20 461.50,109.80 457.90,106.20" fill="#D8681E"/>
<polygon points="464.00,102.20 467.60,105.80 464.00,109.40 460.40,105.80" fill="#D8681E"/>
<polygon points="471.80,102.60 475.40,106.20 471.80,109.80 468.20,106.20" fill="#D8681E"/>
<polygon points="480.00,103.20 483.60,106.80 480.00,110.40 476.40,106.80" fill="#D8681E"/>
<polygon points="495.20,103.70 498.80,107.30 495.20,110.90 491.60,107.30" fill="#D8681E"/>
<polygon points="498.80,103.70 502.40,107.30 498.80,110.90 495.20,107.30" fill="#D8681E"/>
<polygon points="510.40,103.70 514.00,107.30 510.40,110.90 506.80,107.30" fill="#D8681E"/>
<rect x="401.60" y="9.10" width="116.40" height="106.70" fill="none" stroke="#1a1a1a" stroke-width="1.4"/>
<line x1="401.60" y1="89.25" x2="403.60" y2="89.25" stroke="#888" stroke-width="0.7"/>
<line x1="518.00" y1="89.25" x2="516.00" y2="89.25" stroke="#888" stroke-width="0.7"/>
<line x1="401.60" y1="62.50" x2="403.60" y2="62.50" stroke="#888" stroke-width="0.7"/>
<line x1="518.00" y1="62.50" x2="516.00" y2="62.50" stroke="#888" stroke-width="0.7"/>
<line x1="401.60" y1="35.75" x2="403.60" y2="35.75" stroke="#888" stroke-width="0.7"/>
<line x1="518.00" y1="35.75" x2="516.00" y2="35.75" stroke="#888" stroke-width="0.7"/>
<line x1="404.40" y1="9.10" x2="404.40" y2="11.10" stroke="#888" stroke-width="0.7"/>
<line x1="404.40" y1="115.80" x2="404.40" y2="113.80" stroke="#888" stroke-width="0.7"/>
<line x1="446.80" y1="9.10" x2="446.80" y2="11.10" stroke="#888" stroke-width="0.7"/>
<line x1="446.80" y1="115.80" x2="446.80" y2="113.80" stroke="#888" stroke-width="0.7"/>
<line x1="489.19" y1="9.10" x2="489.19" y2="11.10" stroke="#888" stroke-width="0.7"/>
<line x1="489.19" y1="115.80" x2="489.19" y2="113.80" stroke="#888" stroke-width="0.7"/>
<text x="400.50" y="11.20" font-size="11.7" text-anchor="end" font-weight="normal" fill="#262626" textLength="30" lengthAdjust="spacingAndGlyphs">0.002</text>
<text x="401.50" y="39.30" font-size="11.7" text-anchor="end" font-weight="normal" fill="#262626" textLength="37.7" lengthAdjust="spacingAndGlyphs">0.0015</text>
<text x="399.80" y="65.00" font-size="11.7" text-anchor="end" font-weight="normal" fill="#262626" textLength="29.8" lengthAdjust="spacingAndGlyphs">0.001</text>
<text x="401.50" y="91.90" font-size="11.7" text-anchor="end" font-weight="normal" fill="#262626" textLength="37.7" lengthAdjust="spacingAndGlyphs">0.0005</text>
<text x="396.80" y="118.40" font-size="11.7" text-anchor="end" font-weight="normal" fill="#262626" textLength="5.8" lengthAdjust="spacingAndGlyphs">0</text>
<text x="405.00" y="128.30" font-size="11.7" text-anchor="middle" font-weight="normal" fill="#262626" textLength="5.9" lengthAdjust="spacingAndGlyphs">0</text>
<text x="448.00" y="128.30" font-size="11.7" text-anchor="middle" font-weight="normal" fill="#262626" textLength="12.4" lengthAdjust="spacingAndGlyphs">75</text>
<text x="491.40" y="128.30" font-size="11.7" text-anchor="middle" font-weight="normal" fill="#262626" textLength="19" lengthAdjust="spacingAndGlyphs">150</text>
<text x="416.60" y="143.30" font-size="11.7" text-anchor="start" font-weight="normal" fill="#262626" textLength="98.9" lengthAdjust="spacingAndGlyphs">A-Intensity (ct/ms)</text>
<text transform="translate(356.30,87.60) rotate(-90)" x="0" y="0" font-size="11.4" text-anchor="start" font-weight="normal" fill="#262626" textLength="50.2" lengthAdjust="spacingAndGlyphs">B/A Ratio</text>
<text x="495.50" y="23.30" font-size="12.4" text-anchor="start" font-weight="normal" fill="#262626" textLength="14.6" lengthAdjust="spacingAndGlyphs">(c)</text>
<polygon points="405.20,167.10 408.80,170.70 405.20,174.30 401.60,170.70" fill="#0A0ABA"/>
<polygon points="404.60,173.70 408.20,177.30 404.60,180.90 401.00,177.30" fill="#0A0ABA"/>
<polygon points="406.90,204.30 410.50,207.90 406.90,211.50 403.30,207.90" fill="#0A0ABA"/>
<polygon points="423.10,236.80 426.70,240.40 423.10,244.00 419.50,240.40" fill="#0A0ABA"/>
<polygon points="425.40,235.60 429.00,239.20 425.40,242.80 421.80,239.20" fill="#0A0ABA"/>
<polygon points="439.80,241.00 443.40,244.60 439.80,248.20 436.20,244.60" fill="#0A0ABA"/>
<polygon points="462.75,244.40 466.35,248.00 462.75,251.60 459.15,248.00" fill="#0A0ABA"/>
<polygon points="470.60,245.40 474.20,249.00 470.60,252.60 467.00,249.00" fill="#0A0ABA"/>
<polygon points="478.10,246.30 481.70,249.90 478.10,253.50 474.50,249.90" fill="#0A0ABA"/>
<polygon points="480.00,247.50 483.60,251.10 480.00,254.70 476.40,251.10" fill="#0A0ABA"/>
<polygon points="481.90,246.90 485.50,250.50 481.90,254.10 478.30,250.50" fill="#0A0ABA"/>
<polygon points="484.40,246.30 488.00,249.90 484.40,253.50 480.80,249.90" fill="#0A0ABA"/>
<polygon points="487.50,247.15 491.10,250.75 487.50,254.35 483.90,250.75" fill="#0A0ABA"/>
<polygon points="491.25,247.90 494.85,251.50 491.25,255.10 487.65,251.50" fill="#0A0ABA"/>
<polygon points="495.00,248.40 498.60,252.00 495.00,255.60 491.40,252.00" fill="#0A0ABA"/>
<polygon points="497.50,247.50 501.10,251.10 497.50,254.70 493.90,251.10" fill="#0A0ABA"/>
<polygon points="500.60,246.90 504.20,250.50 500.60,254.10 497.00,250.50" fill="#0A0ABA"/>
<polygon points="504.40,247.90 508.00,251.50 504.40,255.10 500.80,251.50" fill="#0A0ABA"/>
<polygon points="511.90,248.80 515.50,252.40 511.90,256.00 508.30,252.40" fill="#0A0ABA"/>
<rect x="401.50" y="150.35" width="116.70" height="106.75" fill="none" stroke="#1a1a1a" stroke-width="1.3"/>
<line x1="401.50" y1="221.87" x2="403.50" y2="221.87" stroke="#888" stroke-width="0.7"/>
<line x1="518.20" y1="221.87" x2="516.20" y2="221.87" stroke="#888" stroke-width="0.7"/>
<line x1="401.50" y1="186.24" x2="403.50" y2="186.24" stroke="#888" stroke-width="0.7"/>
<line x1="518.20" y1="186.24" x2="516.20" y2="186.24" stroke="#888" stroke-width="0.7"/>
<line x1="434.65" y1="150.35" x2="434.65" y2="152.35" stroke="#888" stroke-width="0.7"/>
<line x1="434.65" y1="257.10" x2="434.65" y2="255.10" stroke="#888" stroke-width="0.7"/>
<line x1="468.00" y1="150.35" x2="468.00" y2="152.35" stroke="#888" stroke-width="0.7"/>
<line x1="468.00" y1="257.10" x2="468.00" y2="255.10" stroke="#888" stroke-width="0.7"/>
<line x1="501.35" y1="150.35" x2="501.35" y2="152.35" stroke="#888" stroke-width="0.7"/>
<line x1="501.35" y1="257.10" x2="501.35" y2="255.10" stroke="#888" stroke-width="0.7"/>
<text x="401.00" y="152.80" font-size="11.7" text-anchor="end" font-weight="normal" fill="#262626" textLength="31" lengthAdjust="spacingAndGlyphs">0.015</text>
<text x="399.80" y="189.00" font-size="11.7" text-anchor="end" font-weight="normal" fill="#262626" textLength="23.8" lengthAdjust="spacingAndGlyphs">0.01</text>
<text x="401.50" y="224.60" font-size="11.7" text-anchor="end" font-weight="normal" fill="#262626" textLength="31.5" lengthAdjust="spacingAndGlyphs">0.005</text>
<text x="396.80" y="260.20" font-size="11.7" text-anchor="end" font-weight="normal" fill="#262626" textLength="5.8" lengthAdjust="spacingAndGlyphs">0</text>
<text x="402.00" y="270.00" font-size="11.7" text-anchor="middle" font-weight="normal" fill="#262626" textLength="5.9" lengthAdjust="spacingAndGlyphs">0</text>
<text x="436.20" y="270.00" font-size="11.7" text-anchor="middle" font-weight="normal" fill="#262626" textLength="12.4" lengthAdjust="spacingAndGlyphs">10</text>
<text x="469.40" y="270.00" font-size="11.7" text-anchor="middle" font-weight="normal" fill="#262626" textLength="13.5" lengthAdjust="spacingAndGlyphs">20</text>
<text x="502.50" y="270.00" font-size="11.7" text-anchor="middle" font-weight="normal" fill="#262626" textLength="12.6" lengthAdjust="spacingAndGlyphs">30</text>
<text x="416.30" y="281.60" font-size="11.7" text-anchor="start" font-weight="normal" fill="#262626" textLength="97.5" lengthAdjust="spacingAndGlyphs">A-Intensity (ct/ms)</text>
<text transform="translate(364.50,226.80) rotate(-90)" x="0" y="0" font-size="11.4" text-anchor="start" font-weight="normal" fill="#262626" textLength="50.4" lengthAdjust="spacingAndGlyphs">B/A Ratio</text>
<text x="497.60" y="165.60" font-size="12.4" text-anchor="start" font-weight="normal" fill="#262626" textLength="11.6" lengthAdjust="spacingAndGlyphs">(f)</text>
</svg>
</body></html>
